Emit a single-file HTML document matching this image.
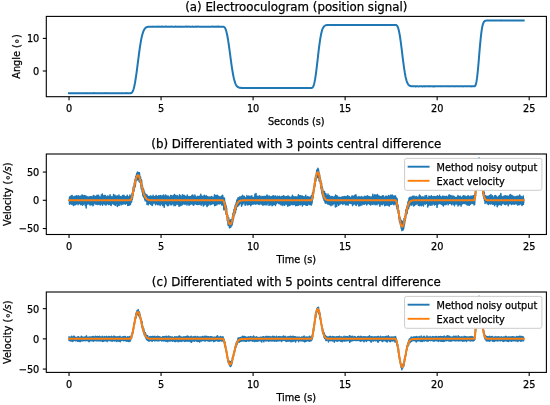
<!DOCTYPE html>
<html><head><meta charset="utf-8"><title>Differentiation figure</title>
<style>
html,body{margin:0;padding:0;background:#fff;}
svg{display:block;}
text{font-family:'DejaVu Sans', 'Liberation Sans', sans-serif;fill:#000;stroke:#000;stroke-width:0.25px;}
.t10{font-size:9.75px;}
.t12{font-size:11.8px;}
</style></head><body>
<svg width="550" height="405" viewBox="0 0 550 405">
<rect width="550" height="405" fill="#fff"/>
<defs>
<clipPath id="c0"><rect x="46.3" y="16.4" width="500.1" height="80.3"/></clipPath>
<clipPath id="c1"><rect x="46.3" y="154.0" width="500.1" height="80.5"/></clipPath>
<clipPath id="c2"><rect x="46.3" y="292.0" width="500.1" height="80.4"/></clipPath>
</defs>
<g clip-path="url(#c0)"><path d="M69.03 93.18L69.40 93.25L69.77 93.17L70.14 93.17L70.50 93.20L70.87 93.19L71.24 93.18L71.61 93.14L71.98 93.22L72.34 93.20L72.71 93.23L73.08 93.19L73.45 93.20L73.82 93.18L74.19 93.18L74.55 93.12L74.92 93.21L75.29 93.17L75.66 93.16L76.03 93.19L76.39 93.17L76.76 93.17L77.13 93.20L77.50 93.15L77.87 93.17L78.23 93.19L78.60 93.20L78.97 93.18L79.34 93.20L79.71 93.17L80.08 93.24L80.44 93.13L80.81 93.21L81.18 93.14L81.55 93.15L81.92 93.19L82.28 93.20L82.65 93.20L83.02 93.19L83.39 93.15L83.76 93.15L84.13 93.18L84.49 93.24L84.86 93.19L85.23 93.17L85.60 93.13L85.97 93.14L86.33 93.16L86.70 93.11L87.07 93.21L87.44 93.16L87.81 93.17L88.17 93.15L88.54 93.15L88.91 93.22L89.28 93.17L89.65 93.18L90.02 93.21L90.38 93.16L90.75 93.19L91.12 93.23L91.49 93.23L91.86 93.14L92.22 93.17L92.59 93.20L92.96 93.18L93.33 93.12L93.70 93.16L94.06 93.11L94.43 93.12L94.80 93.23L95.17 93.21L95.54 93.18L95.91 93.19L96.27 93.20L96.64 93.23L97.01 93.18L97.38 93.17L97.75 93.17L98.11 93.25L98.48 93.25L98.85 93.21L99.22 93.22L99.59 93.14L99.95 93.24L100.32 93.21L100.69 93.23L101.06 93.21L101.43 93.20L101.80 93.14L102.16 93.15L102.53 93.15L102.90 93.23L103.27 93.14L103.64 93.16L104.00 93.14L104.37 93.12L104.74 93.16L105.11 93.22L105.48 93.11L105.84 93.19L106.21 93.22L106.58 93.10L106.95 93.19L107.32 93.22L107.69 93.12L108.05 93.17L108.42 93.22L108.79 93.13L109.16 93.21L109.53 93.23L109.89 93.15L110.26 93.22L110.63 93.19L111.00 93.19L111.37 93.15L111.73 93.20L112.10 93.19L112.47 93.31L112.84 93.16L113.21 93.23L113.58 93.16L113.94 93.14L114.31 93.16L114.68 93.18L115.05 93.19L115.42 93.16L115.78 93.16L116.15 93.21L116.52 93.15L116.89 93.16L117.26 93.18L117.62 93.15L117.99 93.22L118.36 93.22L118.73 93.25L119.10 93.15L119.47 93.20L119.83 93.22L120.20 93.19L120.57 93.14L120.94 93.20L121.31 93.18L121.67 93.12L122.04 93.17L122.41 93.14L122.78 93.14L123.15 93.13L123.51 93.18L123.88 93.25L124.25 93.17L124.62 93.18L124.99 93.20L125.36 93.23L125.72 93.19L126.09 93.19L126.46 93.09L126.83 93.17L127.20 93.13L127.56 93.23L127.93 93.18L128.30 93.21L128.67 93.21L129.04 93.22L129.40 93.13L129.77 93.22L130.14 93.20L130.51 93.17L130.88 93.08L131.25 93.05L131.61 92.87L131.98 92.51L132.35 91.94L132.72 91.34L133.09 90.54L133.45 89.45L133.82 88.19L134.19 86.76L134.56 85.00L134.93 83.19L135.29 81.06L135.66 78.76L136.03 76.31L136.40 73.80L136.77 71.05L137.14 68.29L137.50 65.40L137.87 62.54L138.24 59.61L138.61 56.77L138.98 53.94L139.34 51.25L139.71 48.56L140.08 46.11L140.45 43.84L140.82 41.70L141.18 39.63L141.55 37.84L141.92 36.27L142.29 34.70L142.66 33.40L143.03 32.35L143.39 31.32L143.76 30.45L144.13 29.75L144.50 29.15L144.87 28.59L145.23 28.28L145.60 27.87L145.97 27.54L146.34 27.42L146.71 27.22L147.07 27.04L147.44 26.96L147.81 26.90L148.18 26.79L148.55 26.79L148.92 26.73L149.28 26.71L149.65 26.68L150.02 26.69L150.39 26.74L150.76 26.71L151.12 26.68L151.49 26.69L151.86 26.66L152.23 26.65L152.60 26.62L152.96 26.63L153.33 26.65L153.70 26.70L154.07 26.72L154.44 26.71L154.81 26.70L155.17 26.60L155.54 26.65L155.91 26.64L156.28 26.68L156.65 26.67L157.01 26.67L157.38 26.61L157.75 26.71L158.12 26.67L158.49 26.63L158.85 26.62L159.22 26.65L159.59 26.65L159.96 26.62L160.33 26.70L160.70 26.64L161.06 26.61L161.43 26.65L161.80 26.64L162.17 26.68L162.54 26.59L162.90 26.65L163.27 26.65L163.64 26.70L164.01 26.66L164.38 26.68L164.74 26.64L165.11 26.59L165.48 26.60L165.85 26.69L166.22 26.57L166.59 26.60L166.95 26.72L167.32 26.64L167.69 26.69L168.06 26.62L168.43 26.64L168.79 26.67L169.16 26.62L169.53 26.68L169.90 26.70L170.27 26.62L170.63 26.70L171.00 26.64L171.37 26.60L171.74 26.60L172.11 26.67L172.48 26.66L172.84 26.65L173.21 26.69L173.58 26.67L173.95 26.66L174.32 26.63L174.68 26.69L175.05 26.67L175.42 26.57L175.79 26.59L176.16 26.71L176.52 26.66L176.89 26.67L177.26 26.78L177.63 26.62L178.00 26.64L178.37 26.65L178.73 26.64L179.10 26.60L179.47 26.70L179.84 26.62L180.21 26.66L180.57 26.67L180.94 26.67L181.31 26.71L181.68 26.62L182.05 26.72L182.41 26.66L182.78 26.65L183.15 26.65L183.52 26.64L183.89 26.69L184.26 26.68L184.62 26.69L184.99 26.64L185.36 26.64L185.73 26.57L186.10 26.57L186.46 26.65L186.83 26.60L187.20 26.68L187.57 26.63L187.94 26.63L188.30 26.64L188.67 26.59L189.04 26.60L189.41 26.64L189.78 26.69L190.15 26.67L190.51 26.66L190.88 26.67L191.25 26.71L191.62 26.65L191.99 26.66L192.35 26.59L192.72 26.68L193.09 26.63L193.46 26.67L193.83 26.63L194.19 26.66L194.56 26.64L194.93 26.64L195.30 26.62L195.67 26.66L196.04 26.69L196.40 26.56L196.77 26.71L197.14 26.70L197.51 26.66L197.88 26.68L198.24 26.58L198.61 26.57L198.98 26.62L199.35 26.68L199.72 26.66L200.08 26.64L200.45 26.66L200.82 26.65L201.19 26.71L201.56 26.70L201.93 26.69L202.29 26.62L202.66 26.71L203.03 26.65L203.40 26.66L203.77 26.64L204.13 26.70L204.50 26.68L204.87 26.64L205.24 26.63L205.61 26.66L205.97 26.65L206.34 26.67L206.71 26.69L207.08 26.66L207.45 26.64L207.82 26.67L208.18 26.62L208.55 26.69L208.92 26.65L209.29 26.71L209.66 26.69L210.02 26.63L210.39 26.67L210.76 26.68L211.13 26.70L211.50 26.68L211.86 26.65L212.23 26.55L212.60 26.64L212.97 26.57L213.34 26.71L213.71 26.67L214.07 26.61L214.44 26.69L214.81 26.67L215.18 26.63L215.55 26.62L215.91 26.63L216.28 26.69L216.65 26.60L217.02 26.66L217.39 26.75L217.75 26.68L218.12 26.56L218.49 26.69L218.86 26.58L219.23 26.75L219.60 26.68L219.96 26.63L220.33 26.66L220.70 26.68L221.07 26.68L221.44 26.66L221.80 26.70L222.17 26.67L222.54 26.75L222.91 26.69L223.28 26.72L223.64 26.76L224.01 26.87L224.38 27.21L224.75 27.54L225.12 28.11L225.49 28.91L225.85 29.85L226.22 31.00L226.59 32.45L226.96 33.99L227.33 35.79L227.69 37.76L228.06 39.92L228.43 42.28L228.80 44.77L229.17 47.35L229.54 50.08L229.90 52.85L230.27 55.58L230.64 58.39L231.01 61.13L231.38 63.84L231.74 66.34L232.11 68.86L232.48 71.04L232.85 73.25L233.22 75.23L233.58 77.06L233.95 78.67L234.32 80.09L234.69 81.42L235.06 82.54L235.43 83.61L235.79 84.37L236.16 85.10L236.53 85.68L236.90 86.18L237.27 86.53L237.63 86.91L238.00 87.15L238.37 87.28L238.74 87.53L239.11 87.59L239.47 87.72L239.84 87.75L240.21 87.81L240.58 87.86L240.95 87.91L241.32 87.85L241.68 87.96L242.05 87.97L242.42 87.93L242.79 88.02L243.16 87.93L243.52 87.94L243.89 87.93L244.26 87.93L244.63 87.94L245.00 87.97L245.36 87.97L245.73 88.00L246.10 87.98L246.47 88.00L246.84 87.94L247.21 87.96L247.57 87.98L247.94 87.89L248.31 87.98L248.68 87.94L249.05 87.92L249.41 87.96L249.78 88.01L250.15 88.01L250.52 87.95L250.89 87.94L251.25 88.05L251.62 87.91L251.99 87.94L252.36 87.97L252.73 88.05L253.10 87.99L253.46 87.94L253.83 87.99L254.20 87.92L254.57 87.95L254.94 87.98L255.30 87.93L255.67 87.93L256.04 88.01L256.41 87.97L256.78 88.04L257.14 87.94L257.51 87.99L257.88 87.97L258.25 87.99L258.62 87.95L258.99 87.96L259.35 88.01L259.72 87.96L260.09 87.95L260.46 88.02L260.83 88.04L261.19 87.91L261.56 87.94L261.93 87.93L262.30 87.89L262.67 88.00L263.03 87.97L263.40 87.95L263.77 87.98L264.14 87.95L264.51 87.90L264.88 87.93L265.24 87.98L265.61 87.93L265.98 87.92L266.35 87.97L266.72 87.91L267.08 87.96L267.45 88.01L267.82 87.97L268.19 87.95L268.56 87.98L268.92 87.91L269.29 87.99L269.66 88.00L270.03 87.92L270.40 88.02L270.77 87.91L271.13 88.00L271.50 87.99L271.87 87.99L272.24 87.93L272.61 87.94L272.97 87.95L273.34 88.01L273.71 88.04L274.08 87.98L274.45 87.94L274.81 87.94L275.18 88.01L275.55 87.93L275.92 87.91L276.29 88.03L276.66 88.02L277.02 87.99L277.39 87.97L277.76 88.00L278.13 88.01L278.50 87.96L278.86 88.01L279.23 87.98L279.60 87.96L279.97 87.95L280.34 87.93L280.70 87.98L281.07 87.94L281.44 88.00L281.81 87.92L282.18 88.00L282.55 87.98L282.91 87.96L283.28 88.01L283.65 87.97L284.02 88.06L284.39 87.96L284.75 87.90L285.12 87.97L285.49 87.97L285.86 88.02L286.23 87.97L286.59 87.90L286.96 88.00L287.33 88.03L287.70 87.95L288.07 87.92L288.44 87.99L288.80 87.92L289.17 87.98L289.54 87.88L289.91 88.02L290.28 88.05L290.64 87.98L291.01 87.96L291.38 88.00L291.75 87.96L292.12 88.00L292.48 87.95L292.85 88.02L293.22 87.93L293.59 87.86L293.96 87.94L294.33 88.01L294.69 87.99L295.06 87.91L295.43 87.97L295.80 88.01L296.17 87.92L296.53 87.88L296.90 87.92L297.27 87.91L297.64 87.98L298.01 87.96L298.37 87.96L298.74 87.95L299.11 87.92L299.48 88.00L299.85 87.95L300.22 87.97L300.58 87.99L300.95 87.94L301.32 87.95L301.69 87.99L302.06 87.92L302.42 87.89L302.79 87.97L303.16 87.94L303.53 87.92L303.90 87.94L304.26 87.94L304.63 87.97L305.00 88.07L305.37 87.97L305.74 87.93L306.11 87.99L306.47 87.95L306.84 87.96L307.21 87.98L307.58 87.97L307.95 88.00L308.31 87.97L308.68 88.00L309.05 87.98L309.42 87.89L309.79 87.93L310.15 87.98L310.52 87.94L310.89 87.93L311.26 87.94L311.63 87.95L312.00 87.87L312.36 87.64L312.73 87.24L313.10 86.68L313.47 85.91L313.84 84.87L314.20 83.54L314.57 81.90L314.94 80.02L315.31 77.88L315.68 75.44L316.04 72.76L316.41 69.92L316.78 66.98L317.15 63.69L317.52 60.59L317.89 57.32L318.25 54.11L318.62 50.99L318.99 47.91L319.36 45.07L319.73 42.35L320.09 39.86L320.46 37.59L320.83 35.57L321.20 33.70L321.57 32.15L321.93 30.76L322.30 29.56L322.67 28.68L323.04 27.88L323.41 27.34L323.78 26.67L324.14 26.24L324.51 25.99L324.88 25.76L325.25 25.45L325.62 25.33L325.98 25.29L326.35 25.13L326.72 25.09L327.09 25.11L327.46 25.13L327.82 25.05L328.19 25.01L328.56 25.02L328.93 25.06L329.30 25.11L329.67 25.06L330.03 25.04L330.40 24.98L330.77 25.07L331.14 25.06L331.51 24.99L331.87 24.97L332.24 25.03L332.61 25.03L332.98 25.06L333.35 25.05L333.71 25.00L334.08 24.96L334.45 25.03L334.82 25.00L335.19 25.06L335.56 25.14L335.92 24.99L336.29 25.00L336.66 24.99L337.03 25.01L337.40 25.07L337.76 25.09L338.13 25.03L338.50 25.05L338.87 25.11L339.24 25.02L339.60 25.03L339.97 24.95L340.34 25.11L340.71 25.01L341.08 25.06L341.45 24.96L341.81 25.04L342.18 25.04L342.55 25.03L342.92 25.01L343.29 25.02L343.65 25.00L344.02 25.01L344.39 24.99L344.76 25.01L345.13 24.99L345.49 25.00L345.86 25.04L346.23 25.08L346.60 25.01L346.97 25.06L347.34 25.05L347.70 25.04L348.07 25.02L348.44 25.02L348.81 24.95L349.18 25.12L349.54 25.06L349.91 25.08L350.28 25.07L350.65 25.04L351.02 25.07L351.38 25.01L351.75 25.08L352.12 24.96L352.49 24.97L352.86 25.05L353.23 25.02L353.59 24.98L353.96 25.04L354.33 24.98L354.70 25.09L355.07 25.05L355.43 25.00L355.80 25.04L356.17 25.07L356.54 25.01L356.91 24.94L357.27 25.04L357.64 24.97L358.01 25.06L358.38 24.96L358.75 25.03L359.12 25.08L359.48 25.06L359.85 24.97L360.22 24.99L360.59 24.97L360.96 25.03L361.32 25.01L361.69 25.09L362.06 25.09L362.43 25.05L362.80 25.00L363.16 25.03L363.53 25.00L363.90 25.04L364.27 25.02L364.64 24.98L365.01 25.04L365.37 25.03L365.74 25.04L366.11 25.02L366.48 25.05L366.85 24.98L367.21 25.00L367.58 25.05L367.95 25.11L368.32 24.99L368.69 24.96L369.06 24.97L369.42 25.06L369.79 25.05L370.16 25.06L370.53 24.97L370.90 25.02L371.26 25.06L371.63 25.03L372.00 25.02L372.37 25.03L372.74 24.98L373.10 24.99L373.47 25.07L373.84 24.97L374.21 24.98L374.58 25.05L374.95 25.04L375.31 25.03L375.68 25.04L376.05 25.09L376.42 25.02L376.79 24.99L377.15 25.12L377.52 25.03L377.89 25.02L378.26 25.05L378.63 25.05L378.99 25.03L379.36 25.03L379.73 24.96L380.10 25.00L380.47 25.00L380.84 25.02L381.20 25.05L381.57 25.01L381.94 25.00L382.31 24.99L382.68 25.01L383.04 25.11L383.41 25.05L383.78 25.02L384.15 25.01L384.52 25.05L384.88 24.92L385.25 25.01L385.62 25.02L385.99 24.99L386.36 25.04L386.73 25.09L387.09 25.05L387.46 24.98L387.83 25.05L388.20 25.02L388.57 25.00L388.93 24.98L389.30 25.01L389.67 25.08L390.04 25.02L390.41 24.97L390.77 24.94L391.14 25.13L391.51 25.06L391.88 25.06L392.25 24.98L392.62 25.08L392.98 25.00L393.35 25.09L393.72 24.98L394.09 25.04L394.46 25.02L394.82 24.99L395.19 24.97L395.56 25.10L395.93 24.99L396.30 25.14L396.66 25.39L397.03 25.75L397.40 26.29L397.77 27.01L398.14 27.98L398.51 29.23L398.87 30.65L399.24 32.40L399.61 34.40L399.98 36.51L400.35 39.04L400.71 41.60L401.08 44.32L401.45 47.28L401.82 50.17L402.19 53.28L402.55 56.29L402.92 59.33L403.29 62.22L403.66 64.97L404.03 67.63L404.40 70.11L404.76 72.47L405.13 74.48L405.50 76.41L405.87 78.07L406.24 79.49L406.60 80.84L406.97 81.91L407.34 82.81L407.71 83.55L408.08 84.15L408.44 84.72L408.81 85.08L409.18 85.40L409.55 85.59L409.92 85.83L410.29 85.96L410.65 86.09L411.02 86.15L411.39 86.22L411.76 86.27L412.13 86.25L412.49 86.25L412.86 86.36L413.23 86.28L413.60 86.28L413.97 86.33L414.33 86.28L414.70 86.25L415.07 86.35L415.44 86.43L415.81 86.35L416.18 86.38L416.54 86.28L416.91 86.34L417.28 86.36L417.65 86.33L418.02 86.35L418.38 86.38L418.75 86.43L419.12 86.38L419.49 86.31L419.86 86.36L420.22 86.30L420.59 86.34L420.96 86.30L421.33 86.36L421.70 86.26L422.07 86.40L422.43 86.38L422.80 86.41L423.17 86.32L423.54 86.37L423.91 86.34L424.27 86.34L424.64 86.34L425.01 86.42L425.38 86.34L425.75 86.37L426.11 86.37L426.48 86.37L426.85 86.31L427.22 86.39L427.59 86.31L427.96 86.31L428.32 86.36L428.69 86.34L429.06 86.41L429.43 86.27L429.80 86.30L430.16 86.41L430.53 86.25L430.90 86.32L431.27 86.37L431.64 86.32L432.00 86.30L432.37 86.35L432.74 86.43L433.11 86.35L433.48 86.39L433.85 86.36L434.21 86.35L434.58 86.41L434.95 86.32L435.32 86.30L435.69 86.33L436.05 86.35L436.42 86.37L436.79 86.33L437.16 86.29L437.53 86.36L437.89 86.36L438.26 86.29L438.63 86.37L439.00 86.32L439.37 86.32L439.74 86.32L440.10 86.34L440.47 86.30L440.84 86.37L441.21 86.28L441.58 86.38L441.94 86.34L442.31 86.34L442.68 86.35L443.05 86.28L443.42 86.33L443.78 86.37L444.15 86.37L444.52 86.32L444.89 86.36L445.26 86.36L445.63 86.31L445.99 86.29L446.36 86.33L446.73 86.30L447.10 86.36L447.47 86.35L447.83 86.35L448.20 86.32L448.57 86.33L448.94 86.31L449.31 86.27L449.67 86.38L450.04 86.37L450.41 86.33L450.78 86.37L451.15 86.26L451.52 86.32L451.88 86.33L452.25 86.35L452.62 86.26L452.99 86.32L453.36 86.33L453.72 86.31L454.09 86.31L454.46 86.37L454.83 86.39L455.20 86.31L455.56 86.32L455.93 86.39L456.30 86.31L456.67 86.30L457.04 86.34L457.41 86.25L457.77 86.37L458.14 86.33L458.51 86.32L458.88 86.31L459.25 86.33L459.61 86.38L459.98 86.35L460.35 86.33L460.72 86.34L461.09 86.31L461.45 86.37L461.82 86.30L462.19 86.40L462.56 86.35L462.93 86.33L463.30 86.32L463.66 86.38L464.03 86.35L464.40 86.28L464.77 86.32L465.14 86.36L465.50 86.33L465.87 86.32L466.24 86.31L466.61 86.35L466.98 86.32L467.34 86.34L467.71 86.36L468.08 86.30L468.45 86.33L468.82 86.32L469.19 86.34L469.55 86.28L469.92 86.36L470.29 86.35L470.66 86.36L471.03 86.38L471.39 86.26L471.76 86.38L472.13 86.35L472.50 86.30L472.87 86.31L473.23 86.37L473.60 86.34L473.97 86.36L474.34 86.33L474.71 86.23L475.08 85.93L475.44 85.42L475.81 84.43L476.18 83.03L476.55 81.14L476.92 78.72L477.28 75.84L477.65 72.51L478.02 68.73L478.39 64.61L478.76 60.39L479.12 55.93L479.49 51.51L479.86 47.18L480.23 43.14L480.60 39.43L480.97 35.88L481.33 32.80L481.70 30.11L482.07 27.92L482.44 26.05L482.81 24.62L483.17 23.53L483.54 22.61L483.91 21.95L484.28 21.47L484.65 21.17L485.01 20.92L485.38 20.71L485.75 20.68L486.12 20.62L486.49 20.56L486.86 20.55L487.22 20.43L487.59 20.52L487.96 20.40L488.33 20.51L488.70 20.48L489.06 20.49L489.43 20.49L489.80 20.48L490.17 20.55L490.54 20.50L490.90 20.46L491.27 20.45L491.64 20.48L492.01 20.45L492.38 20.51L492.75 20.49L493.11 20.48L493.48 20.45L493.85 20.44L494.22 20.47L494.59 20.49L494.95 20.46L495.32 20.39L495.69 20.41L496.06 20.39L496.43 20.47L496.79 20.54L497.16 20.47L497.53 20.46L497.90 20.48L498.27 20.43L498.64 20.42L499.00 20.44L499.37 20.46L499.74 20.50L500.11 20.41L500.48 20.50L500.84 20.32L501.21 20.44L501.58 20.54L501.95 20.41L502.32 20.48L502.68 20.49L503.05 20.47L503.42 20.50L503.79 20.51L504.16 20.45L504.53 20.41L504.89 20.48L505.26 20.48L505.63 20.42L506.00 20.40L506.37 20.44L506.73 20.43L507.10 20.44L507.47 20.44L507.84 20.39L508.21 20.47L508.57 20.47L508.94 20.43L509.31 20.48L509.68 20.42L510.05 20.41L510.42 20.46L510.78 20.51L511.15 20.45L511.52 20.48L511.89 20.47L512.26 20.56L512.62 20.42L512.99 20.38L513.36 20.45L513.73 20.51L514.10 20.43L514.47 20.48L514.83 20.46L515.20 20.42L515.57 20.59L515.94 20.54L516.31 20.49L516.67 20.47L517.04 20.48L517.41 20.41L517.78 20.49L518.15 20.40L518.51 20.46L518.88 20.43L519.25 20.44L519.62 20.42L519.99 20.49L520.36 20.49L520.72 20.47L521.09 20.46L521.46 20.46L521.83 20.42L522.20 20.44L522.56 20.50L522.93 20.44L523.30 20.51L523.67 20.48" fill="none" stroke="#1f77b4" stroke-width="2" stroke-linejoin="round" stroke-linecap="square"/></g>
<line x1="69.03" y1="96.7" x2="69.03" y2="100.2" stroke="#000" stroke-width="1.1"/>
<text class="t10" x="69.03" y="111.8" text-anchor="middle">0</text>
<line x1="161.06" y1="96.7" x2="161.06" y2="100.2" stroke="#000" stroke-width="1.1"/>
<text class="t10" x="161.06" y="111.8" text-anchor="middle">5</text>
<line x1="253.10" y1="96.7" x2="253.10" y2="100.2" stroke="#000" stroke-width="1.1"/>
<text class="t10" x="253.10" y="111.8" text-anchor="middle">10</text>
<line x1="345.13" y1="96.7" x2="345.13" y2="100.2" stroke="#000" stroke-width="1.1"/>
<text class="t10" x="345.13" y="111.8" text-anchor="middle">15</text>
<line x1="437.16" y1="96.7" x2="437.16" y2="100.2" stroke="#000" stroke-width="1.1"/>
<text class="t10" x="437.16" y="111.8" text-anchor="middle">20</text>
<line x1="529.19" y1="96.7" x2="529.19" y2="100.2" stroke="#000" stroke-width="1.1"/>
<text class="t10" x="529.19" y="111.8" text-anchor="middle">25</text>
<line x1="42.8" y1="71.01" x2="46.3" y2="71.01" stroke="#000" stroke-width="1.1"/>
<text class="t10" x="39.3" y="74.8" text-anchor="end">0</text>
<line x1="42.8" y1="38.41" x2="46.3" y2="38.41" stroke="#000" stroke-width="1.1"/>
<text class="t10" x="39.3" y="42.2" text-anchor="end">10</text>
<rect x="46.3" y="16.4" width="500.1" height="80.3" fill="none" stroke="#000" stroke-width="1.1"/>
<text class="t12" x="296.3" y="10.8" text-anchor="middle">(a) Electrooculogram (position signal)</text>
<text class="t10" x="296.3" y="124.8" text-anchor="middle">Seconds (s)</text>
<text class="t10" transform="translate(19.6,56.5) rotate(-90)" text-anchor="middle">Angle (∘)</text>
<g clip-path="url(#c1)"><path d="M69.46 203.45L69.51 197.33L69.75 204.15L69.93 196.72L70.28 203.10L70.52 197.57L70.58 197.35L70.61 203.46L71.24 195.65L71.41 202.74L71.85 204.27L71.88 198.37L72.16 195.55L72.44 204.09L72.73 203.74L72.79 197.52L73.43 205.60L73.50 196.89L73.69 204.69L73.84 196.77L74.31 203.22L74.42 196.94L74.57 196.65L75.00 204.94L75.12 196.31L75.22 204.10L75.90 202.44L75.92 197.23L76.12 204.28L76.52 195.85L76.56 197.26L76.91 203.13L77.09 202.93L77.19 197.04L77.65 203.01L77.96 196.02L78.07 204.82L78.27 195.85L78.71 202.40L79.03 196.74L79.14 196.46L79.34 203.18L79.69 196.40L79.85 202.58L80.22 196.32L80.26 204.34L80.66 196.33L80.94 204.80L81.31 198.39L81.33 204.08L81.58 204.22L82.01 194.90L82.49 195.31L82.52 203.84L82.63 205.27L82.91 198.45L83.32 204.32L83.43 197.94L83.54 203.38L83.79 195.66L84.20 196.92L84.35 203.68L84.88 202.14L84.93 195.55L85.30 196.38L85.32 205.44L85.63 197.52L85.93 203.59L86.20 207.94L86.35 196.21L86.54 202.88L86.57 197.16L87.18 197.10L87.47 203.19L87.81 196.98L87.82 204.13L88.25 197.21L88.36 203.34L88.54 197.26L88.71 203.57L89.44 203.70L89.52 197.31L89.55 196.68L89.65 203.30L90.13 205.01L90.53 196.66L90.71 204.15L90.92 196.82L91.29 204.69L91.41 196.63L91.87 203.27L91.95 197.11L92.35 198.56L92.48 204.16L92.70 197.62L92.92 205.66L93.13 204.41L93.27 195.43L93.59 204.95L93.90 197.46L94.36 203.35L94.45 196.11L94.75 203.00L94.80 196.34L95.37 197.20L95.50 202.89L95.78 196.50L95.87 204.24L96.14 203.99L96.25 197.36L96.68 196.10L97.01 202.83L97.08 195.32L97.38 204.58L97.60 195.61L97.65 204.09L98.21 204.14L98.45 195.20L98.81 202.77L98.89 195.97L99.35 197.72L99.40 204.05L99.62 203.79L99.99 198.03L100.21 204.94L100.53 196.95L100.67 204.23L100.91 196.81L101.32 203.80L101.33 194.99L101.92 203.51L101.98 196.47L102.33 193.95L102.53 205.10L102.60 205.20L102.66 197.32L103.08 195.94L103.30 202.64L103.64 203.63L103.69 196.78L104.17 195.57L104.52 203.44L104.63 197.69L104.80 203.98L105.11 204.74L105.26 195.56L105.57 203.02L105.68 198.43L106.10 196.92L106.18 205.01L106.65 197.76L106.93 203.41L107.19 202.37L107.30 196.06L107.57 203.40L107.65 196.81L108.40 204.48L108.44 197.62L108.64 196.32L108.75 204.48L109.45 203.85L109.49 196.55L109.78 202.89L109.80 196.65L110.10 194.84L110.21 203.88L110.54 204.73L110.81 196.73L111.04 197.78L111.05 205.52L111.61 203.10L111.73 196.65L112.49 197.64L112.53 203.07L112.93 203.61L112.97 196.91L113.06 196.66L113.35 203.90L113.54 194.58L113.80 204.30L114.15 196.60L114.46 203.53L114.64 204.82L115.01 195.22L115.07 202.92L115.47 196.33L115.64 205.18L116.00 197.06L116.15 202.89L116.23 197.07L116.76 203.32L116.81 195.92L117.22 196.04L117.33 206.41L117.68 204.11L117.97 196.35L118.43 198.30L118.53 203.52L118.62 205.11L118.97 195.04L119.15 205.40L119.41 196.72L119.74 202.44L120.00 196.75L120.18 203.31L120.29 197.17L120.61 196.59L120.97 204.66L121.16 204.71L121.38 197.31L121.95 203.23L122.02 196.39L122.21 202.39L122.30 198.02L122.59 195.38L122.65 204.21L123.04 196.27L123.24 203.10L123.70 203.79L123.97 195.37L124.07 197.41L124.20 201.96L124.69 197.99L124.86 203.41L125.10 196.71L125.34 204.15L125.76 196.99L125.85 203.73L126.24 196.60L126.39 203.25L126.61 196.62L126.94 203.27L127.32 195.15L127.42 203.19L127.64 197.43L127.71 205.57L128.19 196.96L128.30 202.88L128.94 205.36L128.98 196.76L129.09 196.80L129.44 204.38L129.77 204.59L129.90 195.02L130.47 204.42L130.49 197.70L130.66 197.08L130.97 202.53L131.08 202.60L131.50 195.66L131.58 201.70L132.00 193.25L132.37 199.33L132.50 192.63L132.61 197.45L132.96 189.76L133.10 195.46L133.14 187.86L133.79 185.98L133.86 191.19L134.14 190.12L134.34 182.87L134.94 187.24L135.02 179.60L135.04 179.26L135.07 186.65L135.57 183.63L135.66 176.57L136.23 180.72L136.53 174.47L136.82 173.38L136.90 180.31L137.37 179.15L137.39 172.21L137.67 171.95L137.89 178.52L138.06 179.41L138.29 173.89L138.96 172.69L139.03 179.76L139.12 181.50L139.40 172.70L139.64 175.12L139.66 181.95L140.34 182.71L140.37 177.21L140.54 177.03L140.91 185.50L141.37 189.07L141.50 179.89L141.76 182.93L142.03 189.18L142.18 191.96L142.29 185.19L142.58 187.02L142.75 194.65L143.36 196.53L143.45 188.90L143.87 190.90L143.95 196.51L144.06 197.79L144.52 192.03L144.74 199.50L144.88 193.51L145.22 200.87L145.34 193.91L145.82 194.87L145.84 200.07L146.06 194.50L146.17 200.98L146.96 194.92L147.00 204.62L147.28 196.75L147.33 203.57L147.61 195.91L148.03 203.81L148.31 196.55L148.38 204.69L148.71 197.04L148.79 202.64L149.21 196.76L149.43 203.24L149.65 202.62L149.85 196.31L150.07 202.92L150.50 195.98L150.59 204.22L150.88 196.71L151.05 203.48L151.14 196.29L151.55 196.84L151.97 205.21L152.34 205.38L152.50 196.42L152.91 204.07L153.00 197.46L153.11 195.32L153.24 203.16L153.61 202.86L153.98 196.71L154.25 197.27L154.35 202.93L154.57 196.79L154.97 203.31L155.06 203.27L155.49 196.34L155.58 204.79L155.71 196.44L156.15 195.34L156.50 203.72L156.81 203.42L156.89 197.25L157.18 196.94L157.51 202.39L157.66 204.58L157.97 196.21L158.16 204.69L158.52 195.71L158.58 204.17L158.84 197.49L159.09 202.81L159.44 195.91L159.72 196.63L159.94 204.25L160.14 205.39L160.35 195.40L160.60 197.29L160.97 203.00L161.05 197.25L161.17 203.70L161.67 196.12L161.84 203.07L162.09 196.70L162.11 204.11L162.92 205.66L162.96 195.45L163.36 202.90L163.38 197.51L163.68 195.02L163.90 203.46L164.27 207.32L164.32 196.47L164.65 203.28L164.69 196.72L165.30 195.88L165.46 203.73L165.67 195.03L165.98 203.10L166.38 203.29L166.44 196.42L166.88 204.86L166.99 197.29L167.08 196.04L167.49 203.86L167.73 196.30L167.78 205.70L168.13 204.69L168.32 196.27L168.67 205.33L168.74 196.30L169.18 203.48L169.46 197.42L169.77 197.80L170.01 203.64L170.06 197.93L170.27 203.44L170.71 195.53L170.75 204.74L171.11 204.18L171.33 197.06L171.59 195.66L171.78 204.67L172.03 196.91L172.46 202.54L172.59 196.23L172.70 203.25L173.19 203.69L173.41 195.83L173.58 197.27L174.02 205.66L174.08 203.58L174.33 194.42L174.59 202.52L174.91 197.44L175.25 203.95L175.44 195.52L175.55 205.59L175.88 195.36L176.29 197.40L176.38 203.65L176.78 197.26L176.82 202.52L177.13 204.21L177.48 195.73L177.54 203.55L177.57 196.05L178.29 197.50L178.31 204.24L178.95 196.71L178.97 205.56L179.16 206.33L179.49 194.76L179.67 205.39L179.69 196.35L180.04 204.93L180.06 196.16L180.63 195.83L180.76 205.46L181.40 203.60L181.42 197.33L181.62 204.73L181.99 197.14L182.34 204.83L182.43 194.77L182.89 197.48L182.99 204.28L183.41 195.65L183.52 202.03L183.56 203.29L183.98 195.17L184.05 202.70L184.18 197.67L184.70 204.08L184.81 195.94L185.10 204.46L185.18 196.87L185.73 196.44L185.82 203.33L186.13 202.68L186.52 197.09L186.81 198.15L186.87 205.06L187.11 203.86L187.22 194.92L187.84 203.66L188.01 197.61L188.29 203.26L188.40 196.98L188.54 197.73L188.97 205.14L189.06 204.61L189.10 196.59L189.63 196.79L189.83 204.87L190.11 204.07L190.27 197.03L190.86 204.05L190.97 196.63L191.12 203.13L191.36 197.84L191.82 195.54L192.00 203.65L192.23 197.82L192.37 204.09L192.85 194.89L192.98 203.06L193.27 205.03L193.33 197.74L193.53 196.85L193.55 205.24L194.07 204.58L194.21 196.19L194.78 203.46L194.89 194.91L195.15 203.83L195.26 196.11L195.59 203.36L195.81 197.18L196.42 204.14L196.50 197.99L196.59 203.19L196.83 197.26L197.34 196.38L197.51 204.57L197.67 197.44L197.82 203.61L198.30 196.83L198.41 203.95L198.56 204.36L198.65 197.88L199.07 196.16L199.42 204.21L199.55 203.34L199.64 196.63L200.16 203.89L200.43 196.54L200.80 194.26L200.86 203.28L201.06 198.34L201.17 205.31L201.61 196.32L201.65 203.33L202.04 202.74L202.50 197.23L202.57 203.98L202.96 196.25L203.09 197.28L203.31 206.00L203.60 196.40L203.80 204.16L204.12 204.91L204.30 195.31L204.74 204.71L205.02 196.42L205.20 197.27L205.46 204.00L205.59 202.54L205.72 196.71L206.05 203.09L206.12 195.54L206.55 196.19L206.62 204.89L207.10 206.46L207.45 196.70L207.74 197.90L207.85 203.21L208.05 197.01L208.09 205.34L208.70 197.14L208.81 202.61L209.29 196.92L209.38 202.96L209.55 197.19L209.88 203.97L210.15 204.72L210.23 197.82L210.59 197.28L210.78 203.61L211.11 196.57L211.50 204.15L211.85 196.70L212.01 203.91L212.07 197.26L212.34 203.36L212.69 202.98L212.75 197.51L213.30 203.72L213.36 197.77L213.65 197.21L213.72 202.64L214.46 203.30L214.50 194.83L214.68 205.82L214.98 195.51L215.07 196.37L215.53 205.35L215.55 203.27L215.97 197.38L216.10 195.46L216.15 204.09L216.80 204.82L217.02 197.21L217.26 203.43L217.29 195.36L217.63 197.33L217.79 203.63L218.23 197.42L218.33 203.35L218.64 203.71L218.68 196.30L219.28 197.53L219.43 203.80L219.58 203.89L219.67 197.34L220.07 203.55L220.15 197.77L220.70 196.76L220.92 202.52L221.16 197.31L221.47 203.87L221.82 204.88L221.95 195.68L222.41 204.98L222.52 195.32L222.69 201.95L222.80 195.81L223.09 203.69L223.15 197.41L223.59 198.95L223.81 209.70L224.16 206.22L224.36 198.12L224.73 202.52L224.88 208.00L225.08 202.47L225.38 210.83L225.56 203.92L226.02 214.32L226.15 206.09L226.48 213.90L226.59 208.06L226.92 216.90L227.07 213.97L227.33 220.65L227.69 215.01L227.93 222.41L228.12 225.17L228.21 218.80L228.71 217.98L228.98 225.31L229.15 220.68L229.42 227.67L229.54 220.57L229.81 227.64L230.22 227.35L230.27 220.45L230.68 227.32L230.77 219.78L231.15 226.16L231.30 220.79L231.84 225.45L231.96 219.52L232.30 224.23L232.42 217.05L232.74 222.22L233.01 213.42L233.20 219.63L233.49 212.15L233.62 218.14L234.01 209.66L234.47 208.79L234.52 214.98L234.63 213.26L235.00 206.56L235.31 205.07L235.41 212.67L235.59 209.41L235.79 203.92L236.20 209.68L236.35 202.37L236.75 206.58L236.79 200.06L237.39 200.52L237.50 206.54L237.84 206.26L237.91 197.92L238.39 199.47L238.48 205.20L238.70 197.78L239.01 204.84L239.24 204.80L239.51 197.93L239.66 196.91L240.03 203.74L240.36 203.06L240.52 197.16L240.60 197.87L240.76 203.03L241.32 196.54L241.52 203.63L241.54 206.16L241.83 197.58L242.27 204.66L242.35 197.97L242.68 195.37L242.92 203.59L243.12 203.67L243.47 196.92L243.56 203.09L243.63 197.19L244.11 202.33L244.30 196.37L244.78 197.44L244.92 203.25L245.07 205.28L245.38 198.06L245.70 198.32L245.73 205.00L246.34 197.56L246.45 203.87L246.84 203.08L246.87 195.53L247.30 202.69L247.33 197.31L247.76 205.01L247.92 197.89L248.09 203.60L248.22 196.70L248.79 196.11L248.82 204.59L249.08 197.37L249.23 202.79L249.67 196.77L250.00 204.20L250.17 196.28L250.22 203.53L250.61 196.54L250.81 205.63L251.11 203.88L251.35 197.84L251.68 204.37L251.88 195.71L252.10 204.28L252.52 197.47L252.62 198.26L252.75 203.45L253.17 197.77L253.39 204.10L253.92 197.36L253.94 202.87L254.27 196.98L254.53 203.56L254.94 194.32L255.03 203.98L255.12 203.84L255.16 197.09L255.56 195.98L255.86 204.19L256.04 193.59L256.26 202.86L256.54 196.24L256.72 202.66L257.11 203.56L257.48 196.63L257.57 196.40L257.97 203.96L258.12 196.66L258.51 202.39L258.86 203.70L258.97 197.35L259.17 204.54L259.22 195.69L259.68 197.64L259.81 202.17L260.09 196.82L260.49 203.85L260.79 203.47L261.01 196.31L261.25 203.88L261.29 197.60L261.82 197.70L261.87 204.01L262.06 197.43L262.30 202.82L262.57 204.92L262.59 196.38L263.20 204.96L263.31 197.78L263.97 204.78L263.99 197.05L264.07 196.27L264.43 203.53L264.89 203.27L264.91 197.51L265.28 204.70L265.45 196.54L265.59 204.19L265.85 197.14L266.33 197.11L266.42 204.16L266.73 195.58L267.03 205.09L267.08 195.06L267.45 202.93L267.86 202.76L267.91 196.76L268.35 202.98L268.50 197.90L268.92 196.09L268.94 205.33L269.40 196.33L269.51 204.27L269.62 196.36L269.77 204.93L270.14 197.17L270.32 204.75L270.71 203.92L270.99 197.47L271.13 196.76L271.15 203.39L271.65 197.33L272.02 205.72L272.20 203.41L272.24 196.53L272.90 205.26L272.97 195.87L273.14 202.51L273.49 195.84L273.64 196.08L273.65 204.37L274.12 201.85L274.21 197.37L274.91 196.38L275.00 204.74L275.22 196.67L275.48 205.52L275.61 195.98L275.94 204.21L276.23 203.48L276.51 197.92L276.64 203.23L277.02 197.55L277.13 202.72L277.32 196.21L277.59 202.49L277.61 196.75L278.13 196.48L278.51 203.34L278.59 203.55L278.66 197.22L279.16 203.61L279.53 196.37L279.62 203.63L279.88 197.23L280.17 197.02L280.23 203.94L280.82 197.19L280.98 203.19L281.05 197.96L281.11 205.07L281.66 196.39L281.77 203.84L282.20 196.72L282.23 204.00L282.64 197.95L282.84 205.40L283.15 203.94L283.30 195.71L283.61 203.95L284.02 196.45L284.15 196.15L284.40 203.48L284.70 205.26L284.88 198.98L285.07 203.01L285.20 196.78L285.75 203.73L285.88 197.96L286.19 204.05L286.24 196.64L286.56 196.90L286.91 204.58L287.42 202.34L287.51 196.15L287.81 206.24L287.86 196.05L288.47 196.20L288.53 202.06L288.60 196.21L289.02 203.09L289.23 205.43L289.26 197.21L289.63 197.02L289.71 203.11L290.20 203.12L290.35 197.98L290.57 205.00L290.96 198.31L291.18 204.10L291.21 197.08L291.90 197.41L291.95 204.25L292.36 202.56L292.45 195.29L292.76 204.75L292.85 197.81L293.22 196.43L293.39 204.20L293.66 204.55L293.90 197.10L294.05 203.20L294.31 197.72L294.68 196.92L294.84 204.35L295.14 196.65L295.41 202.93L295.67 205.75L295.93 197.16L296.11 197.40L296.42 203.36L296.68 196.95L296.74 205.19L297.34 196.96L297.51 203.45L297.66 205.38L297.75 196.93L298.12 204.31L298.43 194.80L298.80 204.96L299.00 197.21L299.30 202.86L299.39 196.08L299.72 195.82L299.85 204.19L300.25 195.63L300.44 204.75L300.80 202.86L300.82 196.76L301.34 203.16L301.36 197.35L301.65 203.96L301.89 195.79L302.31 196.05L302.39 206.05L302.92 196.81L302.96 203.54L303.18 203.74L303.53 196.70L303.75 204.47L303.88 197.26L304.34 202.85L304.38 196.88L304.54 196.91L304.80 204.22L305.04 203.09L305.48 197.05L305.76 195.35L305.92 205.30L306.14 197.76L306.46 203.41L306.90 203.84L306.95 197.53L307.30 205.37L307.50 196.46L307.63 197.83L307.98 203.30L308.15 197.33L308.48 202.73L308.76 196.99L309.00 204.62L309.23 198.23L309.38 203.15L309.60 204.38L309.81 197.17L310.10 203.36L310.14 198.11L310.63 197.67L310.93 204.96L311.11 195.96L311.37 205.08L311.72 195.78L311.77 203.92L312.18 201.95L312.35 194.69L312.64 192.56L312.69 199.05L313.12 197.25L313.47 189.16L313.56 193.23L313.91 186.90L314.08 190.70L314.48 182.91L314.79 186.85L315.01 179.01L315.22 184.70L315.49 176.61L315.71 175.52L315.75 181.12L316.06 179.54L316.45 172.57L316.62 177.59L316.71 170.36L317.28 169.81L317.37 177.45L317.76 177.56L317.87 168.16L318.29 169.47L318.40 177.27L318.58 170.07L318.95 178.14L319.05 172.62L319.14 180.87L319.62 174.60L319.73 181.17L320.17 177.74L320.52 184.24L320.61 179.69L320.94 188.13L321.07 182.00L321.49 190.35L321.59 183.31L321.73 192.95L322.21 186.79L322.39 194.92L322.54 188.19L322.87 195.76L323.39 198.36L323.48 191.33L323.59 192.69L324.00 200.32L324.31 199.93L324.46 191.39L324.70 200.91L325.01 194.90L325.08 202.64L325.12 194.28L325.82 203.18L325.84 193.57L326.19 202.40L326.24 196.22L326.74 202.41L326.90 195.61L327.11 196.38L327.36 203.26L327.92 204.04L328.01 193.91L328.06 197.29L328.47 202.39L328.67 203.50L328.86 197.33L329.08 204.32L329.52 195.62L329.67 197.20L329.94 204.13L330.09 204.68L330.27 197.55L330.66 196.94L330.97 205.81L331.14 202.18L331.32 196.97L331.62 203.96L331.80 196.50L332.33 204.41L332.41 196.67L332.79 204.94L332.92 197.54L333.31 197.09L333.46 203.66L333.84 202.83L333.86 197.38L334.23 202.90L334.52 197.43L334.75 196.62L335.00 204.32L335.11 197.04L335.39 206.97L335.57 195.04L335.81 204.32L336.14 203.61L336.18 196.40L336.73 206.45L336.84 195.69L337.29 197.24L337.36 203.94L337.62 196.47L337.95 203.12L338.43 203.25L338.45 198.94L338.70 205.36L338.94 197.68L339.33 197.30L339.42 202.92L339.68 197.53L339.99 203.97L340.30 202.81L340.36 197.88L340.75 197.43L340.78 203.33L341.13 203.46L341.45 197.22L341.57 203.05L341.91 198.09L342.37 203.45L342.38 197.25L342.70 196.76L342.83 204.39L343.25 203.49L343.34 197.07L343.75 202.51L343.89 196.76L344.06 197.31L344.19 203.46L344.54 196.59L344.70 203.06L345.11 203.48L345.13 198.12L345.55 204.85L345.61 196.98L346.07 196.54L346.38 204.64L346.86 204.36L346.88 197.47L347.10 198.10L347.32 202.86L347.59 204.48L347.61 195.78L348.22 205.12L348.46 196.48L348.83 197.48L348.96 203.32L349.08 196.40L349.12 203.05L349.71 197.01L349.80 202.61L350.06 203.12L350.21 197.75L350.56 197.83L350.94 203.49L351.18 203.29L351.50 197.48L351.68 196.77L351.97 202.53L352.08 195.73L352.10 203.13L352.62 205.61L352.97 196.76L353.37 196.58L353.52 202.24L353.58 196.66L353.96 203.03L354.04 204.22L354.44 195.46L354.83 202.65L354.88 197.11L355.43 203.44L355.49 195.34L355.77 204.89L355.97 194.72L356.21 205.53L356.39 196.80L356.67 196.97L357.00 203.90L357.13 198.69L357.18 202.96L357.53 197.33L357.96 203.87L358.07 203.72L358.29 197.19L358.88 205.96L358.91 196.49L359.19 196.76L359.35 202.91L359.76 204.18L359.78 197.13L360.16 205.46L360.42 198.14L360.53 197.36L360.94 204.75L361.25 196.49L361.32 204.20L361.62 196.96L361.82 205.09L362.06 203.56L362.45 198.39L362.70 197.18L362.87 203.70L363.04 203.66L363.07 197.32L363.75 204.25L363.99 197.67L364.44 204.29L364.47 196.32L364.82 196.93L365.02 203.23L365.47 202.97L365.48 196.61L365.63 197.51L365.72 202.48L366.13 203.72L366.51 197.42L366.70 204.89L366.88 197.54L367.09 195.82L367.29 203.49L367.62 203.98L367.90 196.21L368.12 196.96L368.50 201.65L368.65 197.59L368.98 203.48L369.07 196.39L369.44 201.91L369.63 204.15L370.03 197.14L370.18 202.61L370.29 196.93L370.62 205.09L370.99 198.36L371.15 197.02L371.39 203.64L371.91 203.24L372.02 197.06L372.13 204.20L372.48 196.81L372.59 202.52L372.81 194.35L373.07 204.50L373.42 196.02L373.95 203.27L374.01 195.95L374.41 203.43L374.52 195.73L374.74 194.87L375.00 204.78L375.18 203.62L375.37 198.15L375.81 203.48L375.83 194.93L376.10 197.43L376.14 204.18L376.75 197.00L376.97 204.83L377.08 203.25L377.41 194.45L377.54 203.20L377.56 197.61L378.13 202.78L378.17 196.60L378.53 203.29L378.94 195.86L379.42 204.67L379.49 196.77L379.68 197.19L379.86 206.32L380.17 196.71L380.30 203.74L380.72 204.34L380.76 197.54L381.06 196.55L381.09 204.52L381.66 197.13L381.79 203.63L382.29 203.80L382.49 196.11L382.58 204.68L382.62 195.82L383.15 203.42L383.21 197.24L383.56 195.86L383.78 202.91L384.06 203.45L384.42 198.01L384.70 205.73L384.98 198.42L385.07 204.99L385.49 196.68L385.99 196.53L386.01 205.35L386.08 196.06L386.52 203.97L386.61 196.41L386.78 204.12L387.07 204.62L387.50 197.08L387.65 197.45L387.90 204.94L388.12 205.28L388.47 195.58L388.64 196.27L388.97 203.45L389.06 195.66L389.17 206.10L389.76 196.50L390.02 202.65L390.11 196.70L390.35 204.45L390.85 194.94L390.94 203.89L391.16 197.11L391.40 203.47L391.55 204.35L391.68 195.87L392.49 195.16L392.50 203.55L392.56 203.00L392.82 196.26L393.11 197.96L393.50 204.43L393.55 196.79L393.98 204.77L394.09 195.88L394.25 203.46L394.58 203.50L394.86 196.64L395.32 196.00L395.52 203.88L395.54 196.12L395.93 203.92L396.24 197.71L396.50 206.29L396.59 198.03L397.00 208.78L397.11 198.78L397.42 209.73L397.66 204.40L397.99 211.37L398.17 205.48L398.25 213.13L398.80 210.57L398.93 218.57L399.26 213.42L399.35 221.01L399.55 216.18L399.70 222.49L400.27 218.13L400.47 224.78L400.57 219.13L401.03 227.24L401.16 220.57L401.28 228.45L401.67 222.01L401.91 230.62L402.13 230.15L402.44 221.20L402.61 222.33L403.01 230.08L403.44 222.24L403.51 229.05L403.82 226.87L403.97 220.57L404.05 218.54L404.06 226.07L404.62 223.31L404.98 216.30L405.22 220.77L405.50 213.37L405.67 218.33L405.89 209.80L406.36 214.68L406.51 208.40L406.68 213.54L406.75 206.76L407.08 213.57L407.36 205.32L407.58 209.92L407.93 202.44L408.22 201.39L408.48 208.58L408.70 207.36L408.96 200.09L409.03 198.36L409.42 204.88L409.55 205.97L409.59 197.41L410.21 204.85L410.40 197.14L410.69 204.13L410.87 197.46L411.35 204.43L411.37 197.97L411.78 205.23L411.81 196.95L412.20 204.00L412.22 196.49L412.81 203.30L412.95 196.20L413.43 196.37L413.47 204.05L413.73 205.91L413.80 196.63L414.10 196.18L414.52 201.86L414.70 205.34L414.78 197.16L415.18 198.34L415.37 203.03L415.77 196.74L415.95 204.37L416.27 203.69L416.49 196.40L416.71 196.84L416.80 203.30L417.04 203.52L417.30 197.26L417.76 202.99L417.83 198.09L418.09 197.92L418.27 205.35L418.57 202.97L418.99 195.97L419.05 203.67L419.53 197.63L419.54 195.08L419.78 205.75L420.41 195.94L420.50 204.48L420.68 204.32L420.74 197.85L421.13 197.46L421.51 205.79L421.59 197.20L421.68 203.67L422.18 196.94L422.30 204.64L422.58 197.12L422.82 204.07L423.21 197.11L423.50 205.89L423.74 197.19L423.83 202.84L424.11 197.98L424.13 203.21L424.83 203.53L424.97 197.03L425.08 195.85L425.29 204.14L425.54 203.41L425.75 197.13L426.04 197.36L426.52 203.26L426.57 195.46L426.94 202.74L427.33 197.76L427.35 203.66L427.66 198.19L427.68 207.03L428.07 198.70L428.51 205.42L428.77 203.44L428.82 196.14L429.35 196.36L429.46 204.17L429.61 198.16L430.02 204.28L430.04 196.51L430.24 205.18L430.73 197.64L430.90 204.67L431.27 202.29L431.42 195.80L431.58 198.04L431.99 204.06L432.12 205.13L432.19 196.94L432.63 197.25L432.65 203.62L433.26 202.55L433.40 196.47L433.68 197.45L433.83 203.88L434.40 196.46L434.43 205.02L434.60 203.99L435.02 196.85L435.04 197.01L435.48 203.48L435.61 197.23L435.74 204.30L436.07 196.49L436.15 203.22L436.62 197.01L437.01 207.37L437.29 204.35L437.45 195.70L437.77 203.50L437.80 196.48L438.13 204.13L438.23 196.99L438.83 196.58L438.89 202.51L439.29 202.96L439.33 197.42L439.57 195.22L439.92 203.64L440.27 196.74L440.34 203.40L440.80 196.75L440.93 203.19L441.23 197.33L441.37 204.22L441.74 197.17L441.94 202.25L442.09 196.88L442.51 204.85L442.53 203.66L442.90 195.98L443.12 197.43L443.32 206.00L443.86 203.40L443.99 196.94L444.32 196.42L444.39 204.09L444.71 204.36L444.76 197.18L445.11 196.84L445.18 203.37L445.63 197.64L445.88 204.68L446.25 196.32L446.31 204.26L446.69 196.52L446.91 202.71L447.04 197.01L447.52 203.00L447.83 197.57L448.02 203.25L448.22 204.79L448.50 196.13L448.98 195.12L449.03 203.25L449.23 202.86L449.40 194.96L449.55 203.25L450.02 196.25L450.36 196.00L450.48 203.42L450.74 203.38L450.87 195.49L451.33 203.96L451.42 196.01L451.63 196.53L451.66 204.84L452.18 203.90L452.44 196.29L452.84 195.98L452.93 203.21L453.06 196.60L453.19 202.91L453.74 196.28L453.76 204.40L454.31 198.00L454.46 205.82L454.61 203.16L454.77 197.05L455.36 197.49L455.47 203.33L455.88 203.91L456.02 197.81L456.06 197.94L456.43 203.55L456.85 197.27L456.96 203.98L457.07 198.04L457.15 203.96L457.92 195.54L458.01 205.96L458.27 204.59L458.38 196.21L458.55 196.55L458.60 204.44L459.04 196.41L459.52 204.63L459.61 204.24L459.85 196.51L460.33 196.89L460.52 203.46L460.55 204.28L460.59 196.32L461.09 206.09L461.51 197.79L461.95 203.81L461.97 198.35L462.04 204.10L462.52 197.28L462.61 196.81L463.02 203.12L463.07 203.60L463.24 195.68L463.70 195.94L463.76 202.76L464.18 198.36L464.25 203.43L464.58 203.08L464.80 196.12L465.39 196.45L465.41 203.40L465.73 196.95L466.00 203.93L466.22 203.39L466.35 197.10L466.83 203.73L466.90 196.98L467.14 204.89L467.33 196.46L467.75 202.97L467.84 196.56L468.08 195.61L468.49 205.12L468.63 202.87L468.96 196.37L469.13 196.63L469.35 205.20L469.57 203.30L469.85 197.17L470.35 197.16L470.47 204.29L470.93 195.99L470.97 201.80L471.12 202.80L471.21 197.15L472.00 196.65L472.02 203.61L472.11 203.22L472.20 196.32L472.55 196.83L472.61 203.35L473.20 195.77L473.40 203.42L473.66 198.60L473.93 203.50L474.10 204.91L474.43 195.16L474.63 204.50L475.02 193.85L475.30 197.86L475.46 191.36L475.54 196.03L475.98 185.87L476.20 188.91L476.51 180.42L476.55 182.91L477.01 174.41L477.08 178.76L477.49 168.29L477.54 174.15L477.89 165.13L478.15 167.81L478.46 160.68L478.61 165.29L478.83 159.36L479.05 158.10L479.07 164.74L479.71 167.80L479.92 160.05L480.21 162.55L480.28 169.87L480.60 166.13L480.93 174.87L481.11 170.45L481.50 179.60L481.66 174.49L481.81 184.58L482.13 179.87L482.47 189.44L482.66 183.40L482.88 193.87L483.10 188.27L483.45 196.17L483.56 189.84L483.95 198.58L484.32 192.26L484.52 200.20L484.55 200.62L484.98 195.48L485.09 203.42L485.13 195.69L485.73 201.94L485.84 196.04L486.06 196.38L486.52 201.48L486.86 196.22L486.87 202.84L487.09 197.04L487.13 203.80L487.72 203.39L487.90 196.76L488.09 203.11L488.13 196.24L488.59 204.40L488.68 197.95L489.14 202.72L489.45 195.59L489.56 196.03L489.89 203.37L490.33 196.71L490.48 204.09L490.92 194.56L490.94 203.82L491.38 203.40L491.40 196.78L491.59 203.36L491.70 197.26L492.14 203.51L492.45 195.87L492.58 204.24L492.93 197.16L493.04 197.28L493.44 202.40L493.72 204.20L493.78 197.27L494.29 203.82L494.38 197.51L494.66 205.79L494.70 195.69L495.05 203.29L495.51 195.58L495.71 196.61L495.91 203.25L496.04 204.14L496.26 196.36L496.54 204.04L496.70 197.34L497.24 206.69L497.38 197.95L497.79 204.31L497.81 197.35L498.10 197.44L498.32 205.04L498.64 196.53L498.71 203.73L499.15 204.09L499.28 195.81L499.65 195.54L499.89 204.57L500.22 202.84L500.24 197.32L500.66 203.23L500.81 193.52L501.18 196.56L501.25 205.16L501.64 203.22L501.88 197.06L502.26 203.76L502.48 197.25L502.72 202.98L502.89 196.79L503.03 197.58L503.53 203.07L503.77 203.40L503.83 196.91L504.12 195.98L504.30 204.31L504.78 196.56L504.89 202.50L505.30 195.67L505.37 204.62L505.74 196.41L505.87 204.32L506.38 196.13L506.50 203.92L506.73 203.50L507.03 196.12L507.23 197.38L507.29 203.86L507.73 196.39L507.97 204.10L508.19 205.77L508.26 198.38L508.63 204.33L508.67 196.59L509.09 203.88L509.29 195.81L510.01 203.36L510.03 197.03L510.25 194.40L510.43 202.69L510.82 203.39L510.84 196.54L511.17 197.50L511.26 204.44L511.56 203.37L511.74 195.28L512.11 195.73L512.24 202.74L512.79 196.55L512.81 203.89L513.18 204.30L513.36 197.00L513.60 203.58L513.77 196.32L514.23 203.01L514.34 196.93L514.70 204.30L514.81 197.23L515.44 203.48L515.48 197.15L515.74 196.75L515.88 203.60L516.34 203.66L516.36 197.25L516.54 196.49L516.58 203.41L517.10 202.90L517.19 196.49L517.54 205.04L517.61 196.64L518.05 203.98L518.09 196.12L518.86 197.73L518.90 204.84L519.40 197.95L519.51 204.34L519.69 194.98L519.95 203.09L520.04 203.36L520.12 196.46L520.59 203.83L520.87 196.15L521.04 196.71L521.16 204.24L521.63 196.88L521.97 205.36L522.05 205.53L522.07 197.83L522.97 202.92L522.99 197.08L523.23 196.09L523.43 204.36L523.56 198.49L523.67 202.30" fill="none" stroke="#1f77b4" stroke-width="1.5" stroke-linejoin="round" stroke-linecap="square"/>
<path d="M69.03 200.29L69.40 200.29L69.77 200.29L70.14 200.29L70.50 200.29L70.87 200.29L71.24 200.29L71.61 200.29L71.98 200.29L72.34 200.29L72.71 200.29L73.08 200.29L73.45 200.29L73.82 200.29L74.19 200.29L74.55 200.29L74.92 200.29L75.29 200.29L75.66 200.29L76.03 200.29L76.39 200.29L76.76 200.29L77.13 200.29L77.50 200.29L77.87 200.29L78.23 200.29L78.60 200.29L78.97 200.29L79.34 200.29L79.71 200.29L80.08 200.29L80.44 200.29L80.81 200.29L81.18 200.29L81.55 200.29L81.92 200.29L82.28 200.29L82.65 200.29L83.02 200.29L83.39 200.29L83.76 200.29L84.13 200.29L84.49 200.29L84.86 200.29L85.23 200.29L85.60 200.29L85.97 200.29L86.33 200.29L86.70 200.29L87.07 200.29L87.44 200.29L87.81 200.29L88.17 200.29L88.54 200.29L88.91 200.29L89.28 200.29L89.65 200.29L90.02 200.29L90.38 200.29L90.75 200.29L91.12 200.29L91.49 200.29L91.86 200.29L92.22 200.29L92.59 200.29L92.96 200.29L93.33 200.29L93.70 200.29L94.06 200.29L94.43 200.29L94.80 200.29L95.17 200.29L95.54 200.29L95.91 200.29L96.27 200.29L96.64 200.29L97.01 200.29L97.38 200.29L97.75 200.29L98.11 200.29L98.48 200.29L98.85 200.29L99.22 200.29L99.59 200.29L99.95 200.29L100.32 200.29L100.69 200.29L101.06 200.29L101.43 200.29L101.80 200.29L102.16 200.29L102.53 200.29L102.90 200.29L103.27 200.29L103.64 200.29L104.00 200.29L104.37 200.29L104.74 200.29L105.11 200.29L105.48 200.29L105.84 200.29L106.21 200.29L106.58 200.29L106.95 200.29L107.32 200.29L107.69 200.29L108.05 200.29L108.42 200.29L108.79 200.29L109.16 200.29L109.53 200.29L109.89 200.29L110.26 200.29L110.63 200.29L111.00 200.29L111.37 200.29L111.73 200.29L112.10 200.29L112.47 200.29L112.84 200.29L113.21 200.29L113.58 200.29L113.94 200.29L114.31 200.29L114.68 200.29L115.05 200.29L115.42 200.29L115.78 200.29L116.15 200.29L116.52 200.29L116.89 200.29L117.26 200.29L117.62 200.29L117.99 200.29L118.36 200.29L118.73 200.29L119.10 200.29L119.47 200.29L119.83 200.29L120.20 200.29L120.57 200.29L120.94 200.29L121.31 200.29L121.67 200.29L122.04 200.29L122.41 200.29L122.78 200.29L123.15 200.29L123.51 200.29L123.88 200.29L124.25 200.29L124.62 200.29L124.99 200.29L125.36 200.29L125.72 200.29L126.09 200.29L126.46 200.29L126.83 200.29L127.20 200.29L127.56 200.29L127.93 200.29L128.30 200.29L128.67 200.29L129.04 200.29L129.40 200.29L129.77 200.29L130.14 200.29L130.51 200.11L130.88 199.66L131.25 198.95L131.61 198.00L131.98 196.81L132.35 195.43L132.72 193.88L133.09 192.19L133.45 190.41L133.82 188.56L134.19 186.70L134.56 184.86L134.93 183.09L135.29 181.42L135.66 179.89L136.03 178.53L136.40 177.38L136.77 176.45L137.14 175.78L137.50 175.36L137.87 175.23L138.24 175.35L138.61 175.73L138.98 176.35L139.34 177.19L139.71 178.23L140.08 179.43L140.45 180.77L140.82 182.21L141.18 183.71L141.55 185.24L141.92 186.77L142.29 188.26L142.66 189.70L143.03 191.07L143.39 192.33L143.76 193.50L144.13 194.55L144.50 195.49L144.87 196.31L145.23 197.03L145.60 197.65L145.97 198.17L146.34 198.60L146.71 198.96L147.07 199.26L147.44 199.49L147.81 199.68L148.18 199.83L148.55 199.95L148.92 200.04L149.28 200.10L149.65 200.16L150.02 200.19L150.39 200.22L150.76 200.24L151.12 200.26L151.49 200.27L151.86 200.27L152.23 200.28L152.60 200.28L152.96 200.29L153.33 200.29L153.70 200.29L154.07 200.29L154.44 200.29L154.81 200.29L155.17 200.29L155.54 200.29L155.91 200.29L156.28 200.29L156.65 200.29L157.01 200.29L157.38 200.29L157.75 200.29L158.12 200.29L158.49 200.29L158.85 200.29L159.22 200.29L159.59 200.29L159.96 200.29L160.33 200.29L160.70 200.29L161.06 200.29L161.43 200.29L161.80 200.29L162.17 200.29L162.54 200.29L162.90 200.29L163.27 200.29L163.64 200.29L164.01 200.29L164.38 200.29L164.74 200.29L165.11 200.29L165.48 200.29L165.85 200.29L166.22 200.29L166.59 200.29L166.95 200.29L167.32 200.29L167.69 200.29L168.06 200.29L168.43 200.29L168.79 200.29L169.16 200.29L169.53 200.29L169.90 200.29L170.27 200.29L170.63 200.29L171.00 200.29L171.37 200.29L171.74 200.29L172.11 200.29L172.48 200.29L172.84 200.29L173.21 200.29L173.58 200.29L173.95 200.29L174.32 200.29L174.68 200.29L175.05 200.29L175.42 200.29L175.79 200.29L176.16 200.29L176.52 200.29L176.89 200.29L177.26 200.29L177.63 200.29L178.00 200.29L178.37 200.29L178.73 200.29L179.10 200.29L179.47 200.29L179.84 200.29L180.21 200.29L180.57 200.29L180.94 200.29L181.31 200.29L181.68 200.29L182.05 200.29L182.41 200.29L182.78 200.29L183.15 200.29L183.52 200.29L183.89 200.29L184.26 200.29L184.62 200.29L184.99 200.29L185.36 200.29L185.73 200.29L186.10 200.29L186.46 200.29L186.83 200.29L187.20 200.29L187.57 200.29L187.94 200.29L188.30 200.29L188.67 200.29L189.04 200.29L189.41 200.29L189.78 200.29L190.15 200.29L190.51 200.29L190.88 200.29L191.25 200.29L191.62 200.29L191.99 200.29L192.35 200.29L192.72 200.29L193.09 200.29L193.46 200.29L193.83 200.29L194.19 200.29L194.56 200.29L194.93 200.29L195.30 200.29L195.67 200.29L196.04 200.29L196.40 200.29L196.77 200.29L197.14 200.29L197.51 200.29L197.88 200.29L198.24 200.29L198.61 200.29L198.98 200.29L199.35 200.29L199.72 200.29L200.08 200.29L200.45 200.29L200.82 200.29L201.19 200.29L201.56 200.29L201.93 200.29L202.29 200.29L202.66 200.29L203.03 200.29L203.40 200.29L203.77 200.29L204.13 200.29L204.50 200.29L204.87 200.29L205.24 200.29L205.61 200.29L205.97 200.29L206.34 200.29L206.71 200.29L207.08 200.29L207.45 200.29L207.82 200.29L208.18 200.29L208.55 200.29L208.92 200.29L209.29 200.29L209.66 200.29L210.02 200.29L210.39 200.29L210.76 200.29L211.13 200.29L211.50 200.29L211.86 200.29L212.23 200.29L212.60 200.29L212.97 200.29L213.34 200.29L213.71 200.29L214.07 200.29L214.44 200.29L214.81 200.29L215.18 200.29L215.55 200.29L215.91 200.29L216.28 200.29L216.65 200.29L217.02 200.29L217.39 200.29L217.75 200.29L218.12 200.29L218.49 200.29L218.86 200.29L219.23 200.29L219.60 200.29L219.96 200.29L220.33 200.29L220.70 200.29L221.07 200.29L221.44 200.29L221.80 200.29L222.17 200.29L222.54 200.29L222.91 200.33L223.28 200.63L223.64 201.21L224.01 202.06L224.38 203.15L224.75 204.46L225.12 205.96L225.49 207.61L225.85 209.37L226.22 211.20L226.59 213.06L226.96 214.90L227.33 216.68L227.69 218.35L228.06 219.88L228.43 221.23L228.80 222.37L229.17 223.27L229.54 223.90L229.90 224.26L230.27 224.33L230.64 224.13L231.01 223.68L231.38 222.97L231.74 222.05L232.11 220.94L232.48 219.67L232.85 218.27L233.22 216.80L233.58 215.28L233.95 213.74L234.32 212.24L234.69 210.78L235.06 209.40L235.43 208.12L235.79 206.94L236.16 205.88L236.53 204.93L236.90 204.10L237.27 203.39L237.63 202.78L238.00 202.27L238.37 201.85L238.74 201.50L239.11 201.22L239.47 201.00L239.84 200.82L240.21 200.69L240.58 200.58L240.95 200.50L241.32 200.44L241.68 200.40L242.05 200.37L242.42 200.34L242.79 200.33L243.16 200.32L243.52 200.31L243.89 200.30L244.26 200.30L244.63 200.30L245.00 200.29L245.36 200.29L245.73 200.29L246.10 200.29L246.47 200.29L246.84 200.29L247.21 200.29L247.57 200.29L247.94 200.29L248.31 200.29L248.68 200.29L249.05 200.29L249.41 200.29L249.78 200.29L250.15 200.29L250.52 200.29L250.89 200.29L251.25 200.29L251.62 200.29L251.99 200.29L252.36 200.29L252.73 200.29L253.10 200.29L253.46 200.29L253.83 200.29L254.20 200.29L254.57 200.29L254.94 200.29L255.30 200.29L255.67 200.29L256.04 200.29L256.41 200.29L256.78 200.29L257.14 200.29L257.51 200.29L257.88 200.29L258.25 200.29L258.62 200.29L258.99 200.29L259.35 200.29L259.72 200.29L260.09 200.29L260.46 200.29L260.83 200.29L261.19 200.29L261.56 200.29L261.93 200.29L262.30 200.29L262.67 200.29L263.03 200.29L263.40 200.29L263.77 200.29L264.14 200.29L264.51 200.29L264.88 200.29L265.24 200.29L265.61 200.29L265.98 200.29L266.35 200.29L266.72 200.29L267.08 200.29L267.45 200.29L267.82 200.29L268.19 200.29L268.56 200.29L268.92 200.29L269.29 200.29L269.66 200.29L270.03 200.29L270.40 200.29L270.77 200.29L271.13 200.29L271.50 200.29L271.87 200.29L272.24 200.29L272.61 200.29L272.97 200.29L273.34 200.29L273.71 200.29L274.08 200.29L274.45 200.29L274.81 200.29L275.18 200.29L275.55 200.29L275.92 200.29L276.29 200.29L276.66 200.29L277.02 200.29L277.39 200.29L277.76 200.29L278.13 200.29L278.50 200.29L278.86 200.29L279.23 200.29L279.60 200.29L279.97 200.29L280.34 200.29L280.70 200.29L281.07 200.29L281.44 200.29L281.81 200.29L282.18 200.29L282.55 200.29L282.91 200.29L283.28 200.29L283.65 200.29L284.02 200.29L284.39 200.29L284.75 200.29L285.12 200.29L285.49 200.29L285.86 200.29L286.23 200.29L286.59 200.29L286.96 200.29L287.33 200.29L287.70 200.29L288.07 200.29L288.44 200.29L288.80 200.29L289.17 200.29L289.54 200.29L289.91 200.29L290.28 200.29L290.64 200.29L291.01 200.29L291.38 200.29L291.75 200.29L292.12 200.29L292.48 200.29L292.85 200.29L293.22 200.29L293.59 200.29L293.96 200.29L294.33 200.29L294.69 200.29L295.06 200.29L295.43 200.29L295.80 200.29L296.17 200.29L296.53 200.29L296.90 200.29L297.27 200.29L297.64 200.29L298.01 200.29L298.37 200.29L298.74 200.29L299.11 200.29L299.48 200.29L299.85 200.29L300.22 200.29L300.58 200.29L300.95 200.29L301.32 200.29L301.69 200.29L302.06 200.29L302.42 200.29L302.79 200.29L303.16 200.29L303.53 200.29L303.90 200.29L304.26 200.29L304.63 200.29L305.00 200.29L305.37 200.29L305.74 200.29L306.11 200.29L306.47 200.29L306.84 200.29L307.21 200.29L307.58 200.29L307.95 200.29L308.31 200.29L308.68 200.29L309.05 200.29L309.42 200.29L309.79 200.29L310.15 200.29L310.52 200.29L310.89 200.29L311.26 200.26L311.63 199.87L312.00 199.07L312.36 197.87L312.73 196.32L313.10 194.46L313.47 192.35L313.84 190.05L314.20 187.64L314.57 185.19L314.94 182.77L315.31 180.45L315.68 178.32L316.04 176.43L316.41 174.85L316.78 173.62L317.15 172.77L317.52 172.34L317.89 172.34L318.25 172.73L318.62 173.51L318.99 174.63L319.36 176.05L319.73 177.71L320.09 179.56L320.46 181.52L320.83 183.54L321.20 185.55L321.57 187.51L321.93 189.36L322.30 191.07L322.67 192.63L323.04 194.01L323.41 195.22L323.78 196.25L324.14 197.12L324.51 197.83L324.88 198.42L325.25 198.88L325.62 199.24L325.98 199.53L326.35 199.74L326.72 199.90L327.09 200.02L327.46 200.10L327.82 200.16L328.19 200.20L328.56 200.23L328.93 200.25L329.30 200.27L329.67 200.28L330.03 200.28L330.40 200.28L330.77 200.29L331.14 200.29L331.51 200.29L331.87 200.29L332.24 200.29L332.61 200.29L332.98 200.29L333.35 200.29L333.71 200.29L334.08 200.29L334.45 200.29L334.82 200.29L335.19 200.29L335.56 200.29L335.92 200.29L336.29 200.29L336.66 200.29L337.03 200.29L337.40 200.29L337.76 200.29L338.13 200.29L338.50 200.29L338.87 200.29L339.24 200.29L339.60 200.29L339.97 200.29L340.34 200.29L340.71 200.29L341.08 200.29L341.45 200.29L341.81 200.29L342.18 200.29L342.55 200.29L342.92 200.29L343.29 200.29L343.65 200.29L344.02 200.29L344.39 200.29L344.76 200.29L345.13 200.29L345.49 200.29L345.86 200.29L346.23 200.29L346.60 200.29L346.97 200.29L347.34 200.29L347.70 200.29L348.07 200.29L348.44 200.29L348.81 200.29L349.18 200.29L349.54 200.29L349.91 200.29L350.28 200.29L350.65 200.29L351.02 200.29L351.38 200.29L351.75 200.29L352.12 200.29L352.49 200.29L352.86 200.29L353.23 200.29L353.59 200.29L353.96 200.29L354.33 200.29L354.70 200.29L355.07 200.29L355.43 200.29L355.80 200.29L356.17 200.29L356.54 200.29L356.91 200.29L357.27 200.29L357.64 200.29L358.01 200.29L358.38 200.29L358.75 200.29L359.12 200.29L359.48 200.29L359.85 200.29L360.22 200.29L360.59 200.29L360.96 200.29L361.32 200.29L361.69 200.29L362.06 200.29L362.43 200.29L362.80 200.29L363.16 200.29L363.53 200.29L363.90 200.29L364.27 200.29L364.64 200.29L365.01 200.29L365.37 200.29L365.74 200.29L366.11 200.29L366.48 200.29L366.85 200.29L367.21 200.29L367.58 200.29L367.95 200.29L368.32 200.29L368.69 200.29L369.06 200.29L369.42 200.29L369.79 200.29L370.16 200.29L370.53 200.29L370.90 200.29L371.26 200.29L371.63 200.29L372.00 200.29L372.37 200.29L372.74 200.29L373.10 200.29L373.47 200.29L373.84 200.29L374.21 200.29L374.58 200.29L374.95 200.29L375.31 200.29L375.68 200.29L376.05 200.29L376.42 200.29L376.79 200.29L377.15 200.29L377.52 200.29L377.89 200.29L378.26 200.29L378.63 200.29L378.99 200.29L379.36 200.29L379.73 200.29L380.10 200.29L380.47 200.29L380.84 200.29L381.20 200.29L381.57 200.29L381.94 200.29L382.31 200.29L382.68 200.29L383.04 200.29L383.41 200.29L383.78 200.29L384.15 200.29L384.52 200.29L384.88 200.29L385.25 200.29L385.62 200.29L385.99 200.29L386.36 200.29L386.73 200.29L387.09 200.29L387.46 200.29L387.83 200.29L388.20 200.29L388.57 200.29L388.93 200.29L389.30 200.29L389.67 200.29L390.04 200.29L390.41 200.29L390.77 200.29L391.14 200.29L391.51 200.29L391.88 200.29L392.25 200.29L392.62 200.29L392.98 200.29L393.35 200.29L393.72 200.29L394.09 200.29L394.46 200.29L394.82 200.29L395.19 200.29L395.56 200.35L395.93 200.75L396.30 201.50L396.66 202.60L397.03 204.02L397.40 205.70L397.77 207.60L398.14 209.67L398.51 211.84L398.87 214.06L399.24 216.27L399.61 218.39L399.98 220.38L400.35 222.16L400.71 223.69L401.08 224.94L401.45 225.85L401.82 226.41L402.19 226.60L402.55 226.42L402.92 225.91L403.29 225.08L403.66 223.95L404.03 222.59L404.40 221.02L404.76 219.31L405.13 217.52L405.50 215.68L405.87 213.87L406.24 212.11L406.60 210.44L406.97 208.89L407.34 207.48L407.71 206.23L408.08 205.13L408.44 204.18L408.81 203.38L409.18 202.71L409.55 202.16L409.92 201.71L410.29 201.36L410.65 201.09L411.02 200.87L411.39 200.71L411.76 200.59L412.13 200.50L412.49 200.44L412.86 200.39L413.23 200.36L413.60 200.34L413.97 200.32L414.33 200.31L414.70 200.30L415.07 200.30L415.44 200.30L415.81 200.29L416.18 200.29L416.54 200.29L416.91 200.29L417.28 200.29L417.65 200.29L418.02 200.29L418.38 200.29L418.75 200.29L419.12 200.29L419.49 200.29L419.86 200.29L420.22 200.29L420.59 200.29L420.96 200.29L421.33 200.29L421.70 200.29L422.07 200.29L422.43 200.29L422.80 200.29L423.17 200.29L423.54 200.29L423.91 200.29L424.27 200.29L424.64 200.29L425.01 200.29L425.38 200.29L425.75 200.29L426.11 200.29L426.48 200.29L426.85 200.29L427.22 200.29L427.59 200.29L427.96 200.29L428.32 200.29L428.69 200.29L429.06 200.29L429.43 200.29L429.80 200.29L430.16 200.29L430.53 200.29L430.90 200.29L431.27 200.29L431.64 200.29L432.00 200.29L432.37 200.29L432.74 200.29L433.11 200.29L433.48 200.29L433.85 200.29L434.21 200.29L434.58 200.29L434.95 200.29L435.32 200.29L435.69 200.29L436.05 200.29L436.42 200.29L436.79 200.29L437.16 200.29L437.53 200.29L437.89 200.29L438.26 200.29L438.63 200.29L439.00 200.29L439.37 200.29L439.74 200.29L440.10 200.29L440.47 200.29L440.84 200.29L441.21 200.29L441.58 200.29L441.94 200.29L442.31 200.29L442.68 200.29L443.05 200.29L443.42 200.29L443.78 200.29L444.15 200.29L444.52 200.29L444.89 200.29L445.26 200.29L445.63 200.29L445.99 200.29L446.36 200.29L446.73 200.29L447.10 200.29L447.47 200.29L447.83 200.29L448.20 200.29L448.57 200.29L448.94 200.29L449.31 200.29L449.67 200.29L450.04 200.29L450.41 200.29L450.78 200.29L451.15 200.29L451.52 200.29L451.88 200.29L452.25 200.29L452.62 200.29L452.99 200.29L453.36 200.29L453.72 200.29L454.09 200.29L454.46 200.29L454.83 200.29L455.20 200.29L455.56 200.29L455.93 200.29L456.30 200.29L456.67 200.29L457.04 200.29L457.41 200.29L457.77 200.29L458.14 200.29L458.51 200.29L458.88 200.29L459.25 200.29L459.61 200.29L459.98 200.29L460.35 200.29L460.72 200.29L461.09 200.29L461.45 200.29L461.82 200.29L462.19 200.29L462.56 200.29L462.93 200.29L463.30 200.29L463.66 200.29L464.03 200.29L464.40 200.29L464.77 200.29L465.14 200.29L465.50 200.29L465.87 200.29L466.24 200.29L466.61 200.29L466.98 200.29L467.34 200.29L467.71 200.29L468.08 200.29L468.45 200.29L468.82 200.29L469.19 200.29L469.55 200.29L469.92 200.29L470.29 200.29L470.66 200.29L471.03 200.29L471.39 200.29L471.76 200.29L472.13 200.29L472.50 200.29L472.87 200.29L473.23 200.29L473.60 200.29L473.97 200.29L474.34 200.07L474.71 198.90L475.08 196.80L475.44 193.87L475.81 190.27L476.18 186.19L476.55 181.84L476.92 177.45L477.28 173.25L477.65 169.46L478.02 166.29L478.39 163.90L478.76 162.41L479.12 161.90L479.49 162.37L479.86 163.73L480.23 165.90L480.60 168.71L480.97 171.99L481.33 175.55L481.70 179.18L482.07 182.71L482.44 186.00L482.81 188.96L483.17 191.52L483.54 193.67L483.91 195.41L484.28 196.78L484.65 197.82L485.01 198.60L485.38 199.16L485.75 199.55L486.12 199.82L486.49 200.00L486.86 200.11L487.22 200.19L487.59 200.23L487.96 200.26L488.33 200.27L488.70 200.28L489.06 200.29L489.43 200.29L489.80 200.29L490.17 200.29L490.54 200.29L490.90 200.29L491.27 200.29L491.64 200.29L492.01 200.29L492.38 200.29L492.75 200.29L493.11 200.29L493.48 200.29L493.85 200.29L494.22 200.29L494.59 200.29L494.95 200.29L495.32 200.29L495.69 200.29L496.06 200.29L496.43 200.29L496.79 200.29L497.16 200.29L497.53 200.29L497.90 200.29L498.27 200.29L498.64 200.29L499.00 200.29L499.37 200.29L499.74 200.29L500.11 200.29L500.48 200.29L500.84 200.29L501.21 200.29L501.58 200.29L501.95 200.29L502.32 200.29L502.68 200.29L503.05 200.29L503.42 200.29L503.79 200.29L504.16 200.29L504.53 200.29L504.89 200.29L505.26 200.29L505.63 200.29L506.00 200.29L506.37 200.29L506.73 200.29L507.10 200.29L507.47 200.29L507.84 200.29L508.21 200.29L508.57 200.29L508.94 200.29L509.31 200.29L509.68 200.29L510.05 200.29L510.42 200.29L510.78 200.29L511.15 200.29L511.52 200.29L511.89 200.29L512.26 200.29L512.62 200.29L512.99 200.29L513.36 200.29L513.73 200.29L514.10 200.29L514.47 200.29L514.83 200.29L515.20 200.29L515.57 200.29L515.94 200.29L516.31 200.29L516.67 200.29L517.04 200.29L517.41 200.29L517.78 200.29L518.15 200.29L518.51 200.29L518.88 200.29L519.25 200.29L519.62 200.29L519.99 200.29L520.36 200.29L520.72 200.29L521.09 200.29L521.46 200.29L521.83 200.29L522.20 200.29L522.56 200.29L522.93 200.29L523.30 200.29L523.67 200.29" fill="none" stroke="#ff7f0e" stroke-width="2" stroke-linejoin="round" stroke-linecap="square"/></g>
<line x1="69.03" y1="234.5" x2="69.03" y2="238.0" stroke="#000" stroke-width="1.1"/>
<text class="t10" x="69.03" y="249.6" text-anchor="middle">0</text>
<line x1="161.06" y1="234.5" x2="161.06" y2="238.0" stroke="#000" stroke-width="1.1"/>
<text class="t10" x="161.06" y="249.6" text-anchor="middle">5</text>
<line x1="253.10" y1="234.5" x2="253.10" y2="238.0" stroke="#000" stroke-width="1.1"/>
<text class="t10" x="253.10" y="249.6" text-anchor="middle">10</text>
<line x1="345.13" y1="234.5" x2="345.13" y2="238.0" stroke="#000" stroke-width="1.1"/>
<text class="t10" x="345.13" y="249.6" text-anchor="middle">15</text>
<line x1="437.16" y1="234.5" x2="437.16" y2="238.0" stroke="#000" stroke-width="1.1"/>
<text class="t10" x="437.16" y="249.6" text-anchor="middle">20</text>
<line x1="529.19" y1="234.5" x2="529.19" y2="238.0" stroke="#000" stroke-width="1.1"/>
<text class="t10" x="529.19" y="249.6" text-anchor="middle">25</text>
<line x1="42.8" y1="228.52" x2="46.3" y2="228.52" stroke="#000" stroke-width="1.1"/>
<text class="t10" x="39.3" y="232.3" text-anchor="end">−50</text>
<line x1="42.8" y1="200.29" x2="46.3" y2="200.29" stroke="#000" stroke-width="1.1"/>
<text class="t10" x="39.3" y="204.1" text-anchor="end">0</text>
<line x1="42.8" y1="172.06" x2="46.3" y2="172.06" stroke="#000" stroke-width="1.1"/>
<text class="t10" x="39.3" y="175.9" text-anchor="end">50</text>
<rect x="46.3" y="154.0" width="500.1" height="80.5" fill="none" stroke="#000" stroke-width="1.1"/>
<text class="t12" x="296.3" y="148.0" text-anchor="middle">(b) Differentiated with 3 points central difference</text>
<text class="t10" x="296.3" y="262.6" text-anchor="middle">Time (s)</text>
<text class="t10" transform="translate(11.1,194.2) rotate(-90)" text-anchor="middle">Velocity (∘<tspan font-style="italic">/s</tspan>)</text>
<rect x="404.6" y="158.4" width="137.3" height="31.9" rx="2" ry="2" fill="#fff" stroke="#ccc" stroke-width="1"/>
<line x1="408.6" y1="166.7" x2="428.6" y2="166.7" stroke="#1f77b4" stroke-width="1.9" stroke-linecap="square"/>
<line x1="408.6" y1="180.8" x2="428.6" y2="180.8" stroke="#ff7f0e" stroke-width="1.9" stroke-linecap="square"/>
<text class="t10" x="436.6" y="170.7">Method noisy output</text>
<text class="t10" x="436.6" y="185.0">Exact velocity</text>
<g clip-path="url(#c2)"><path d="M69.05 336.95L69.07 340.61L69.92 340.59L70.03 337.56L70.21 337.43L70.27 340.56L70.69 340.92L70.91 337.18L71.13 336.90L71.41 340.63L71.54 340.20L71.55 336.20L72.11 337.25L72.29 341.44L72.68 339.90L72.93 337.23L73.27 341.08L73.49 336.17L73.54 339.98L73.78 336.78L74.30 336.23L74.48 340.38L74.66 340.49L74.72 336.74L75.29 337.63L75.46 340.77L75.71 340.35L75.79 337.64L76.06 340.73L76.27 337.38L76.76 340.36L76.91 337.95L77.31 337.30L77.48 341.30L77.98 336.77L78.00 341.12L78.07 340.50L78.38 336.84L78.75 337.22L78.95 340.66L79.06 337.21L79.16 341.53L79.74 340.79L80.00 337.41L80.31 337.73L80.37 341.49L80.65 340.24L80.92 337.41L81.14 340.84L81.24 336.21L81.62 340.49L81.79 337.24L82.16 340.98L82.32 337.08L82.54 337.08L82.87 340.48L83.19 340.20L83.52 337.54L83.57 340.75L83.98 337.59L84.07 340.13L84.22 337.04L84.66 340.44L84.68 337.14L85.06 337.37L85.41 340.66L85.82 340.31L85.97 336.50L86.48 335.89L86.50 340.12L86.61 340.43L86.92 337.11L87.11 337.38L87.51 340.48L87.95 337.31L87.99 340.67L88.28 340.75L88.30 337.58L88.78 337.25L89.00 341.64L89.41 336.91L89.50 341.38L89.65 337.67L89.74 340.46L90.31 337.08L90.38 340.47L90.75 337.52L90.97 340.49L91.10 337.54L91.29 340.74L91.97 340.00L92.00 336.71L92.28 336.58L92.32 340.35L92.70 337.49L92.96 340.67L93.14 341.22L93.48 336.49L93.62 336.72L93.79 341.05L94.47 340.19L94.51 337.22L94.95 337.00L95.00 340.63L95.11 340.70L95.41 336.35L95.54 340.49L95.76 336.52L96.38 336.91L96.51 340.73L96.66 336.92L97.03 340.37L97.12 336.47L97.40 340.67L97.58 336.41L97.64 340.44L98.10 340.76L98.11 337.15L98.57 336.73L98.83 340.63L99.42 340.27L99.51 336.30L99.79 340.85L100.03 337.44L100.29 337.20L100.30 340.96L100.93 336.99L101.00 340.27L101.26 337.47L101.45 340.66L101.65 337.31L101.72 340.73L102.26 336.28L102.48 341.46L102.57 337.41L102.68 340.56L103.21 340.46L103.27 337.27L103.54 341.34L103.84 337.09L104.37 340.52L104.46 336.83L104.56 336.41L104.85 340.76L105.13 340.29L105.40 337.38L105.57 340.83L106.01 337.69L106.30 336.48L106.45 340.41L106.54 336.60L106.67 339.99L107.13 341.58L107.50 337.13L107.80 336.99L107.94 340.18L108.15 336.65L108.27 340.58L108.57 336.59L108.73 340.52L109.05 340.42L109.07 337.61L109.69 336.60L109.77 340.34L110.15 340.68L110.48 337.35L110.65 336.95L110.92 340.36L111.26 340.42L111.50 336.24L111.62 337.04L111.73 341.12L112.05 337.51L112.53 341.12L112.62 340.31L112.71 336.94L113.26 336.75L113.39 340.48L113.61 340.39L113.65 336.18L114.29 337.55L114.44 340.88L114.59 336.17L114.79 340.70L115.21 340.65L115.31 336.86L115.78 337.07L115.82 340.56L116.15 340.83L116.39 337.25L116.67 337.28L116.78 341.59L117.04 336.82L117.29 339.99L117.66 340.64L117.97 336.78L118.10 336.78L118.49 341.12L118.75 337.10L118.93 340.43L119.04 340.49L119.23 336.76L119.85 341.31L119.96 336.25L120.09 336.98L120.18 341.81L120.59 337.27L120.61 340.73L121.45 340.39L121.47 337.83L121.64 337.26L121.95 340.09L122.35 340.17L122.52 337.09L122.74 340.20L122.93 336.76L123.22 336.75L123.51 340.64L123.75 340.76L123.85 337.70L124.10 336.44L124.38 340.26L124.55 340.56L124.84 336.79L125.43 340.63L125.48 336.61L125.59 340.73L125.85 337.75L126.09 337.76L126.29 340.34L126.66 341.13L126.94 337.42L127.07 340.27L127.16 337.22L127.66 336.80L127.77 341.18L128.10 337.31L128.24 341.58L128.76 341.01L128.83 337.05L129.05 340.48L129.33 336.57L129.68 337.21L129.88 341.51L130.36 337.16L130.47 340.22L130.55 340.26L130.91 336.73L131.08 338.70L131.39 335.30L131.63 337.96L131.96 333.64L132.11 335.75L132.31 332.28L132.74 333.46L133.01 329.20L133.20 331.87L133.53 327.22L133.58 328.99L134.02 323.35L134.28 325.50L134.50 322.08L134.60 323.33L135.02 318.43L135.09 320.11L135.39 316.91L135.55 318.74L135.99 313.41L136.10 317.69L136.40 312.31L136.58 314.92L136.95 311.43L137.19 310.56L137.21 314.07L137.91 314.68L137.95 310.77L138.24 309.82L138.33 314.01L138.64 311.23L138.81 315.29L139.18 316.57L139.42 312.00L139.66 313.83L140.01 317.98L140.06 314.67L140.50 319.36L140.63 317.58L140.87 320.95L141.20 319.31L141.44 323.95L141.57 320.85L141.88 326.92L142.05 321.61L142.44 328.81L142.66 325.95L142.80 329.99L143.06 327.86L143.39 331.85L143.69 328.40L143.76 333.20L144.20 330.83L144.37 335.21L144.68 332.62L144.79 335.84L145.25 332.65L145.51 337.11L145.64 333.63L145.82 337.91L146.39 335.57L146.52 339.48L146.80 335.62L146.84 339.35L147.28 339.95L147.37 336.52L147.66 335.60L147.98 340.50L148.22 337.51L148.23 340.77L148.69 337.95L148.99 341.27L149.21 337.14L149.39 339.77L149.54 336.81L149.71 340.85L150.06 337.68L150.19 340.45L150.55 340.27L150.85 336.48L151.05 337.58L151.18 340.69L151.90 336.71L151.95 340.58L152.21 341.28L152.43 336.46L152.71 340.82L152.82 336.39L153.09 340.07L153.48 337.40L153.81 340.17L153.96 336.60L154.31 337.15L154.47 339.93L154.84 340.92L154.99 336.35L155.25 337.21L155.36 340.52L155.73 340.57L155.85 337.02L156.26 340.45L156.28 336.74L156.89 340.75L156.98 336.80L157.11 337.20L157.51 340.82L157.62 336.16L158.03 340.84L158.14 340.32L158.27 337.18L158.56 336.56L158.80 340.43L159.08 337.01L159.09 340.83L159.61 336.70L159.90 340.06L160.38 337.19L160.46 340.28L160.64 337.60L160.66 340.21L161.17 340.04L161.21 337.82L161.82 340.99L161.97 337.87L162.22 340.20L162.32 336.86L162.89 336.58L163.00 340.48L163.33 340.88L163.51 336.78L163.79 337.66L163.88 340.49L164.10 340.76L164.30 337.37L164.76 336.63L164.82 340.70L165.39 336.49L165.46 340.80L165.55 340.55L165.59 337.27L166.03 341.48L166.25 337.75L166.57 340.91L166.73 336.36L167.19 340.89L167.49 336.92L167.58 336.97L167.89 341.66L168.26 340.31L168.41 336.69L168.76 336.14L168.87 340.58L169.11 336.49L169.38 340.04L169.70 337.42L169.86 341.26L170.23 337.06L170.38 340.48L170.58 336.64L170.91 340.78L171.37 337.32L171.41 340.49L171.54 340.20L171.92 337.38L172.18 336.96L172.53 341.26L172.88 340.02L173.01 337.50L173.06 340.61L173.52 337.68L173.69 340.69L173.84 337.61L174.32 337.65L174.44 340.01L174.54 336.84L174.65 341.45L175.11 336.96L175.25 340.70L175.62 337.04L175.70 341.44L176.18 340.95L176.23 337.48L176.54 336.91L176.58 340.71L177.15 340.76L177.17 336.89L178.00 337.21L178.02 341.86L178.24 337.16L178.42 341.14L178.79 336.13L178.86 340.41L179.12 340.33L179.38 337.80L179.62 335.95L179.97 341.40L180.24 341.29L180.35 337.13L180.61 337.79L180.92 341.05L181.05 336.87L181.48 340.00L181.70 337.57L181.90 341.44L182.23 337.49L182.30 340.79L182.78 339.65L182.99 336.90L183.39 336.99L183.45 340.37L183.74 336.90L183.80 340.96L184.09 340.95L184.20 337.38L184.84 336.80L184.94 341.52L185.36 340.43L185.43 336.83L185.54 337.30L185.75 340.95L186.19 340.32L186.43 336.47L186.57 337.40L186.67 341.01L187.38 340.97L187.44 335.89L187.72 336.78L188.01 341.27L188.07 336.87L188.18 340.62L188.69 336.47L188.71 340.95L189.15 337.53L189.41 340.66L189.59 337.60L189.96 340.51L190.20 341.48L190.27 336.92L190.79 340.82L190.84 337.31L191.14 336.20L191.23 342.33L191.86 341.76L191.93 337.37L192.43 337.28L192.50 340.86L192.74 336.94L192.94 340.34L193.24 340.67L193.29 336.73L193.66 337.37L193.94 340.97L194.27 341.26L194.40 337.56L194.82 336.52L194.95 341.09L195.15 336.44L195.39 340.64L195.85 337.69L196.02 340.34L196.05 337.01L196.46 340.08L196.72 337.29L196.81 341.29L197.43 336.38L197.53 340.99L197.69 341.42L197.91 337.10L198.43 337.49L198.45 339.76L198.61 341.28L199.02 337.11L199.35 337.73L199.44 341.14L199.64 341.96L199.72 337.15L200.36 340.90L200.42 336.91L200.64 337.98L200.78 340.96L201.12 336.99L201.41 341.07L201.80 340.29L201.93 337.49L202.33 336.60L202.50 340.56L202.81 336.43L202.86 340.29L203.20 337.75L203.34 340.59L203.60 337.54L203.90 340.31L204.21 340.18L204.39 336.31L204.94 337.47L204.96 341.14L205.09 336.70L205.20 340.86L205.61 336.34L205.68 340.78L206.20 340.34L206.34 337.54L206.69 336.50L206.97 340.23L207.10 336.44L207.52 340.08L207.76 340.87L207.89 337.02L208.17 336.76L208.46 340.35L208.83 336.71L209.03 341.24L209.23 337.59L209.34 340.67L209.64 340.98L209.99 337.60L210.28 340.95L210.30 336.63L210.74 336.69L210.94 340.36L211.26 340.92L211.35 336.82L211.70 340.77L211.79 337.41L212.12 340.18L212.16 336.95L212.56 337.69L212.64 340.23L213.17 337.38L213.19 340.35L213.61 341.43L213.69 337.43L214.11 341.44L214.41 337.32L214.68 340.72L214.90 337.00L215.21 341.06L215.25 337.50L215.68 340.74L215.90 337.44L216.30 340.53L216.47 337.52L216.54 336.49L216.83 340.50L217.06 340.49L217.48 335.74L217.59 340.91L217.64 336.70L218.05 337.65L218.44 340.32L218.66 336.90L218.86 341.27L219.26 341.24L219.43 337.26L219.67 340.69L219.85 336.92L220.31 340.51L220.50 336.45L220.85 337.04L220.87 340.42L221.16 341.00L221.25 336.88L221.55 340.55L221.71 337.42L222.25 337.27L222.28 340.76L222.85 336.87L223.02 340.61L223.13 337.09L223.35 341.52L223.61 341.69L223.77 338.77L224.05 339.30L224.47 344.21L224.68 341.58L224.99 346.82L225.06 342.86L225.47 348.14L225.54 345.71L225.87 350.66L226.09 348.95L226.48 352.59L226.61 351.02L226.98 355.88L227.16 353.82L227.38 358.43L227.55 356.96L227.90 361.72L228.04 359.43L228.50 362.96L228.69 360.53L228.82 363.76L229.04 360.94L229.28 364.76L229.65 362.35L229.85 365.88L230.11 361.66L230.29 366.33L230.68 366.50L230.86 361.69L231.34 361.11L231.39 365.36L231.58 363.90L231.87 360.68L232.17 363.04L232.33 357.88L232.59 359.91L232.65 356.52L233.09 357.70L233.53 353.77L233.64 355.96L233.93 351.72L234.12 353.04L234.50 350.29L234.67 351.97L234.91 347.41L235.08 349.81L235.44 345.79L235.77 347.65L236.01 343.72L236.36 346.17L236.47 342.13L236.57 344.88L237.03 341.38L237.32 344.04L237.36 340.75L237.73 342.58L238.00 338.38L238.11 337.98L238.46 342.09L238.55 341.11L238.68 338.41L239.25 337.96L239.49 342.01L239.62 341.52L239.82 337.82L240.08 341.41L240.49 337.55L240.78 341.13L240.89 337.66L241.44 339.96L241.50 337.37L241.68 341.06L241.79 336.91L242.24 341.04L242.53 337.24L242.68 336.34L242.84 340.57L243.39 340.86L243.41 336.54L243.82 337.61L243.91 340.89L244.33 336.44L244.39 340.74L244.67 340.40L244.92 336.91L245.24 336.74L245.27 341.37L245.70 340.69L245.81 337.30L246.36 337.49L246.43 341.17L246.62 340.60L246.74 337.53L247.35 337.82L247.48 340.68L247.72 340.35L247.94 337.29L248.31 336.85L248.53 340.58L248.60 337.07L248.92 341.14L249.29 340.92L249.30 337.37L249.84 340.47L249.91 337.02L250.28 340.69L250.33 337.61L250.72 336.61L250.83 340.17L251.09 340.10L251.49 337.35L251.55 340.30L251.70 337.09L252.06 340.96L252.51 337.03L252.60 341.14L252.89 337.21L253.30 337.21L253.46 340.88L253.54 336.07L253.76 340.21L254.03 336.49L254.37 340.56L254.77 341.58L254.95 337.83L255.32 337.39L255.36 341.14L255.60 341.11L255.91 337.26L256.08 340.84L256.32 336.86L256.56 337.58L256.74 341.31L257.29 337.27L257.38 341.29L257.66 337.40L258.03 340.07L258.19 340.94L258.51 337.59L258.71 337.73L258.84 340.62L259.06 338.20L259.13 340.69L259.92 339.71L260.02 337.21L260.24 339.99L260.42 337.14L260.66 340.97L260.84 338.15L261.41 337.53L261.47 340.82L261.80 341.92L261.97 336.94L262.04 340.88L262.32 337.26L262.59 337.41L262.94 339.62L263.05 336.71L263.07 340.18L263.62 336.72L263.77 341.78L264.12 339.97L264.43 337.20L264.60 337.17L264.84 340.50L265.32 340.65L265.50 337.18L265.92 336.47L265.94 341.06L266.16 340.70L266.27 336.78L266.59 340.27L266.77 336.51L267.07 340.41L267.38 336.51L267.82 340.69L267.84 337.41L268.35 336.54L268.46 341.13L268.65 340.37L268.87 337.27L269.15 340.87L269.48 337.33L269.66 341.06L269.86 336.57L270.21 340.46L270.31 337.33L270.58 337.04L270.75 340.75L271.21 340.44L271.39 337.18L271.70 341.00L272.00 337.09L272.05 340.73L272.42 336.48L272.66 336.37L272.86 340.71L273.12 341.07L273.32 336.56L273.62 340.19L273.75 336.65L274.35 336.53L274.52 340.30L274.69 341.16L274.70 337.15L275.35 337.78L275.37 340.85L275.73 340.57L275.97 336.80L276.10 340.92L276.49 336.20L276.56 341.28L276.93 337.09L277.06 336.97L277.21 340.96L277.81 337.38L277.93 340.71L278.48 336.76L278.50 340.52L278.59 340.80L278.79 337.27L279.20 336.62L279.31 340.87L279.80 336.90L279.91 340.20L280.17 336.71L280.21 340.27L280.80 337.75L280.91 339.92L281.04 336.87L281.31 341.38L281.85 340.88L281.94 337.25L282.31 340.78L282.38 337.13L282.67 336.53L282.97 340.48L283.23 339.84L283.32 335.90L283.56 339.98L283.87 336.58L284.15 337.70L284.42 340.31L284.55 340.12L284.90 337.31L285.09 336.27L285.42 340.86L285.88 340.17L286.02 336.95L286.19 341.48L286.47 337.51L286.59 337.55L286.91 340.57L287.22 340.89L287.29 337.30L287.63 336.91L287.98 341.16L288.16 341.08L288.21 337.30L288.75 340.94L288.77 337.01L289.13 336.52L289.23 341.07L289.54 340.43L289.89 337.72L290.06 337.30L290.52 340.71L290.53 336.33L290.92 341.84L291.33 336.92L291.40 340.86L291.58 337.19L291.75 340.79L292.06 336.47L292.50 341.38L292.80 340.44L292.93 336.98L293.06 336.34L293.15 341.15L293.96 340.63L293.98 336.86L294.29 340.77L294.36 336.79L294.71 340.06L294.95 336.86L295.17 336.76L295.50 341.75L295.58 342.04L295.74 337.05L296.15 340.67L296.46 337.54L296.53 340.60L296.98 337.47L297.07 336.99L297.16 339.75L297.73 340.13L297.86 337.51L298.12 340.64L298.36 337.35L298.67 341.77L298.71 337.46L299.30 337.18L299.37 340.19L299.66 339.94L299.77 337.27L300.09 340.50L300.34 337.78L300.57 340.86L300.60 337.84L301.08 337.48L301.52 340.86L301.60 336.90L301.78 340.22L302.07 336.96L302.22 340.73L302.70 337.35L302.85 341.08L303.07 337.27L303.16 340.35L303.68 336.59L303.95 341.01L304.12 335.95L304.23 340.88L304.54 341.72L304.72 337.20L305.06 340.29L305.52 337.18L305.57 341.40L305.66 337.17L306.25 337.82L306.27 341.02L306.69 336.92L306.80 340.94L307.25 340.61L307.34 337.24L307.69 340.60L307.74 337.50L308.19 337.18L308.52 340.91L308.77 337.12L308.83 340.92L309.47 337.22L309.53 341.36L309.62 341.16L309.66 336.14L310.04 336.86L310.47 339.91L310.67 340.78L310.96 337.47L311.09 340.87L311.31 337.51L311.83 339.88L311.85 335.99L312.18 338.95L312.49 334.62L312.55 337.84L312.81 332.83L313.06 333.18L313.39 328.26L313.67 330.95L314.02 324.81L314.19 327.83L314.50 321.70L314.65 324.16L314.90 319.58L315.05 319.87L315.53 313.67L315.81 312.78L315.90 317.18L316.06 313.43L316.27 310.89L316.67 312.38L317.02 308.49L317.08 310.72L317.26 308.01L317.63 310.65L317.89 307.57L318.14 310.82L318.49 307.31L318.60 308.82L318.66 313.59L319.17 310.52L319.23 314.22L319.62 311.96L319.78 318.21L320.11 314.05L320.33 319.46L320.54 317.68L320.92 322.80L321.05 321.23L321.49 325.35L321.62 324.61L321.95 328.31L322.08 326.98L322.47 331.50L322.54 328.24L322.71 332.92L323.08 330.49L323.48 334.70L323.85 332.55L323.98 336.06L324.25 337.66L324.36 333.31L324.60 335.88L324.66 338.40L325.38 335.62L325.49 338.73L325.73 336.72L325.87 340.45L326.11 339.29L326.43 336.41L326.65 336.48L326.67 340.48L327.03 339.85L327.09 336.99L327.97 340.17L328.03 336.93L328.40 341.91L328.41 337.17L328.54 337.62L328.82 340.52L329.24 339.94L329.39 336.62L329.98 340.61L330.02 336.52L330.29 340.84L330.44 337.31L330.57 336.48L330.94 340.60L331.21 337.63L331.45 340.38L331.62 337.56L331.71 339.78L332.21 336.62L332.37 340.88L332.63 336.61L332.85 340.75L333.25 337.17L333.29 340.28L333.75 336.79L333.86 340.45L334.34 342.11L334.38 337.55L334.60 337.02L334.82 340.95L335.10 340.56L335.21 337.94L335.74 337.08L335.87 340.45L336.38 336.84L336.46 340.80L336.59 337.14L336.70 340.99L337.36 341.29L337.47 337.31L337.58 336.69L337.78 340.50L338.37 336.83L338.39 340.85L338.74 336.67L338.96 340.81L339.40 336.18L339.49 340.61L339.68 336.54L339.75 339.99L340.32 337.52L340.38 340.65L340.54 337.31L340.62 341.33L341.24 340.77L341.35 337.27L341.59 336.87L341.65 340.75L342.09 341.73L342.13 337.86L342.68 337.48L342.99 340.75L343.23 336.95L343.47 340.21L343.71 337.04L343.95 341.05L344.15 336.29L344.17 340.62L344.89 341.03L344.92 337.47L345.49 337.40L345.51 340.86L345.59 340.29L345.86 336.41L346.18 340.80L346.27 337.17L346.54 340.84L346.80 336.74L347.48 336.77L347.50 340.51L347.80 340.69L347.87 337.10L348.09 336.93L348.35 339.93L348.57 340.46L349.01 337.76L349.12 340.26L349.38 335.77L349.77 342.37L349.86 337.29L350.13 341.49L350.48 336.27L350.81 341.06L350.91 336.20L351.20 337.20L351.26 340.06L351.68 340.89L351.85 337.03L352.12 340.86L352.43 337.54L352.62 336.14L352.82 340.58L353.19 337.49L353.21 340.56L353.89 338.05L354.00 340.32L354.20 336.77L354.26 340.34L354.55 340.12L354.97 336.60L355.12 336.79L355.51 340.26L355.60 337.10L355.95 340.55L356.06 337.51L356.15 340.28L356.78 337.44L357.02 340.44L357.33 340.31L357.40 337.67L357.53 336.82L357.57 340.10L358.36 336.50L358.53 340.49L358.73 340.02L359.02 336.51L359.32 337.07L359.41 339.83L359.76 337.47L359.82 340.81L360.15 336.94L360.20 341.24L360.72 341.01L360.88 336.13L361.18 341.04L361.51 337.41L361.55 340.72L361.86 336.79L362.10 339.62L362.24 337.35L362.70 337.29L362.85 340.71L363.29 336.81L363.42 340.94L363.53 337.82L363.94 340.74L364.10 341.82L364.25 336.79L364.66 337.01L364.69 340.29L365.10 336.98L365.37 340.36L365.91 340.70L365.98 336.77L366.15 337.36L366.26 341.49L366.77 337.77L366.81 340.78L367.10 337.30L367.14 340.61L367.93 336.72L367.95 340.43L368.28 340.04L368.32 336.60L368.82 340.15L368.91 337.09L369.31 339.93L369.37 336.29L369.59 335.81L369.70 340.42L370.31 337.21L370.42 341.16L370.64 340.67L370.88 337.21L371.12 342.19L371.21 336.72L371.67 339.86L371.71 337.21L372.29 336.72L372.42 340.87L372.70 340.79L372.75 336.93L373.09 340.96L373.21 337.44L373.55 337.60L373.58 341.06L374.21 336.72L374.32 340.18L374.72 340.00L374.80 337.09L375.18 337.23L375.37 340.77L375.87 336.87L375.99 340.60L376.09 336.86L376.14 340.69L376.77 337.28L376.99 340.48L377.04 340.35L377.49 336.95L377.67 336.41L377.71 341.99L378.20 341.25L378.35 336.39L378.57 341.98L378.81 337.21L379.07 337.35L379.47 340.00L379.62 340.33L379.95 337.11L380.10 336.86L380.19 340.20L380.56 336.20L380.69 339.96L381.42 340.74L381.44 337.27L381.76 337.84L381.85 340.71L382.25 337.12L382.45 341.60L382.58 340.79L382.71 336.65L383.28 337.08L383.52 340.61L383.78 340.83L384.02 336.85L384.09 336.82L384.35 340.57L384.77 340.26L385.03 337.29L385.47 336.60L385.49 340.97L385.69 340.70L385.95 336.75L386.50 336.56L386.52 341.43L386.76 336.62L386.93 340.51L387.19 341.89L387.48 336.99L387.59 340.52L387.74 337.09L388.22 340.73L388.27 335.82L388.95 340.05L388.99 337.22L389.14 340.35L389.17 337.01L389.74 341.37L389.98 337.05L390.26 337.27L390.39 341.73L390.94 340.21L391.01 337.72L391.25 336.93L391.33 340.14L391.90 337.81L391.97 340.58L392.28 341.06L392.38 336.93L392.80 340.54L392.85 337.25L393.13 337.56L393.41 340.66L393.63 336.98L394.00 340.34L394.46 340.52L394.51 337.61L394.58 336.91L394.92 341.27L395.08 342.15L395.38 336.52L395.73 337.40L395.97 340.59L396.15 338.42L396.39 341.31L396.61 339.75L397.01 345.25L397.11 342.36L397.44 346.47L397.66 344.15L398.03 349.21L398.39 352.80L398.43 348.08L398.63 350.48L398.95 356.32L399.06 353.82L399.46 359.11L399.55 356.96L399.94 361.82L400.03 359.65L400.49 363.86L400.64 363.09L401.01 365.87L401.12 367.57L401.25 364.36L401.67 365.39L401.84 369.67L402.09 364.92L402.11 368.20L402.59 368.18L402.83 365.32L403.05 367.01L403.40 363.26L403.79 366.19L403.99 361.67L404.08 364.90L404.47 358.71L404.67 361.26L404.95 356.41L405.09 358.87L405.41 355.15L405.63 356.24L405.98 351.63L406.03 354.34L406.46 349.08L406.64 350.40L406.99 345.84L407.16 349.06L407.32 345.32L407.65 346.72L407.93 342.75L408.06 344.89L408.50 341.94L408.72 344.95L408.79 340.65L409.07 342.85L409.24 339.12L409.88 338.86L409.90 341.99L410.19 342.49L410.30 338.60L410.54 341.91L410.69 338.12L411.10 341.02L411.19 336.88L411.76 341.28L411.98 338.02L412.25 340.70L412.40 337.51L412.62 340.58L412.86 337.75L413.36 340.55L413.38 337.04L413.87 337.07L413.91 340.03L414.26 340.54L414.32 336.94L414.78 337.12L414.85 340.72L415.27 340.96L415.31 337.02L415.81 340.77L415.97 337.27L416.25 341.94L416.34 336.45L416.58 340.63L416.67 336.86L417.26 340.32L417.39 337.29L417.70 337.42L417.78 340.95L418.09 336.89L418.37 340.78L418.62 337.13L418.64 340.05L419.21 340.65L419.23 336.61L419.69 340.59L419.71 337.08L420.08 340.91L420.45 337.22L420.83 336.92L420.98 341.44L421.20 335.90L421.27 340.32L421.79 340.21L421.97 337.87L422.36 341.50L422.41 337.50L422.82 337.54L422.97 340.89L423.15 340.91L423.32 336.54L423.54 337.67L423.68 340.62L424.33 336.37L424.51 341.00L424.61 337.24L424.92 340.39L425.19 337.48L425.23 340.20L425.86 340.58L426.02 337.49L426.04 337.36L426.50 340.76L426.94 335.89L426.96 340.17L427.05 341.31L427.16 336.73L427.55 336.73L427.81 340.12L428.34 341.07L428.42 336.99L428.67 337.47L428.77 340.45L429.23 340.10L429.43 337.50L429.96 336.49L430.02 340.52L430.33 337.73L430.48 339.93L430.55 340.71L430.57 337.06L431.05 337.66L431.29 340.49L431.78 337.46L431.86 339.92L432.23 340.43L432.30 336.53L432.54 337.15L432.81 340.68L433.18 336.83L433.46 341.08L433.88 336.99L433.97 339.88L434.21 340.98L434.23 338.08L434.66 341.00L435.00 336.92L435.26 336.55L435.52 340.58L435.91 340.52L435.96 337.16L436.35 340.65L436.51 336.41L436.66 337.81L436.77 340.45L437.18 340.05L437.49 337.63L437.60 340.86L437.99 337.28L438.28 336.54L438.52 341.43L438.54 337.19L438.81 340.63L439.16 340.61L439.50 336.66L439.61 336.89L439.68 339.92L440.25 340.92L440.29 336.48L440.80 336.65L440.86 341.17L441.06 340.30L441.32 336.69L441.96 336.86L441.98 340.39L442.13 341.25L442.40 336.73L442.81 340.63L443.01 336.81L443.29 337.20L443.31 341.41L443.75 340.42L443.97 337.01L444.15 336.08L444.30 341.14L444.56 340.48L444.98 337.39L445.13 336.94L445.18 340.79L445.61 337.15L445.66 339.97L446.16 340.40L446.36 336.59L446.56 340.71L446.99 335.92L447.17 336.60L447.28 340.22L447.83 335.69L447.87 340.51L448.33 336.63L448.48 340.44L448.70 340.98L448.99 336.35L449.27 340.20L449.49 337.54L449.84 340.30L449.90 336.49L450.21 341.27L450.45 336.90L450.54 337.14L450.76 340.21L451.22 337.30L451.39 341.02L451.53 337.22L451.59 340.07L452.16 337.73L452.38 340.26L452.67 340.72L452.75 337.21L453.12 336.66L453.47 340.23L453.54 336.25L453.93 340.49L454.42 340.51L454.46 336.66L454.83 340.67L455.01 336.33L455.10 336.76L455.22 340.91L455.66 340.27L455.95 336.65L456.14 340.36L456.15 336.19L456.60 340.67L456.78 337.14L457.09 337.14L457.39 340.05L457.72 340.68L458.03 337.34L458.09 340.67L458.18 335.81L458.69 337.33L458.84 340.89L459.10 340.66L459.28 336.87L459.71 340.46L459.72 337.07L460.20 340.39L460.28 337.39L460.53 340.74L460.98 337.10L461.20 340.29L461.47 336.98L461.75 340.81L461.95 336.96L462.17 340.78L462.32 337.03L462.63 341.14L462.65 337.17L463.31 340.81L463.37 337.55L463.76 340.72L463.96 337.19L464.09 341.24L464.16 336.35L464.79 336.67L464.80 340.16L465.38 339.76L465.39 336.71L465.58 340.49L465.80 337.17L466.06 336.70L466.17 341.19L466.57 341.57L466.59 337.00L467.11 340.57L467.29 337.74L467.58 336.98L467.90 340.03L468.41 336.92L468.49 340.41L468.85 337.36L468.96 340.37L469.19 337.39L469.30 340.67L469.79 336.65L469.96 340.56L470.05 340.55L470.47 337.57L470.62 337.99L470.93 341.05L471.06 336.56L471.19 340.62L471.65 337.17L471.91 340.32L472.20 340.48L472.42 336.74L472.63 337.35L472.92 340.61L473.05 341.08L473.44 337.51L473.73 340.10L474.01 337.31L474.14 337.06L474.23 340.20L474.80 339.39L475.00 335.31L475.06 336.27L475.39 329.09L475.55 331.51L475.96 325.48L476.07 326.28L476.49 319.04L476.60 320.40L476.95 311.60L477.06 313.35L477.51 306.21L477.54 307.92L478.02 302.04L478.15 303.24L478.44 298.51L478.65 300.15L478.66 296.89L479.11 296.35L479.44 300.25L479.62 296.60L479.99 301.99L480.08 299.51L480.52 304.64L480.62 304.30L481.00 309.69L481.13 308.07L481.46 315.30L481.59 314.61L481.98 319.91L482.03 318.63L482.46 325.35L482.57 324.14L482.97 329.64L483.17 327.51L483.43 332.63L483.74 330.43L483.95 335.22L484.06 332.20L484.48 337.40L484.59 334.59L485.00 338.90L485.22 335.44L485.53 339.54L485.84 336.12L485.92 339.87L486.17 336.50L486.21 340.69L486.78 340.63L487.02 336.78L487.26 340.72L487.43 337.05L487.55 336.76L487.96 341.04L488.03 337.19L488.18 340.95L488.62 336.81L488.88 340.81L489.29 340.76L489.40 337.55L489.71 341.23L489.73 336.14L490.26 340.61L490.39 336.94L490.68 337.30L490.89 339.98L491.05 339.92L491.25 336.76L491.68 339.76L491.95 336.44L492.29 336.71L492.36 341.25L492.58 337.39L492.84 341.06L493.46 337.22L493.50 340.93L493.56 337.18L494.00 340.54L494.13 341.38L494.20 337.16L494.55 337.08L494.60 340.08L495.08 340.96L495.18 337.56L495.80 340.61L495.89 336.46L496.24 340.32L496.35 337.23L496.87 340.81L497.00 337.72L497.31 336.90L497.38 340.89L497.62 340.33L497.73 337.34L498.21 336.94L498.41 340.79L498.60 340.36L498.73 336.85L499.21 337.39L499.22 340.59L499.65 337.36L500.02 340.71L500.14 340.85L500.37 337.47L500.70 337.44L500.88 340.44L501.14 336.69L501.53 340.16L501.78 337.24L501.99 340.49L502.22 337.21L502.35 341.03L502.56 341.03L502.81 337.60L503.27 341.38L503.48 336.90L503.79 337.27L504.01 340.33L504.38 337.35L504.42 340.95L504.71 337.54L504.84 340.62L505.34 336.52L505.46 339.60L505.67 340.72L505.74 336.55L506.13 340.84L506.26 336.52L506.59 337.50L506.75 340.51L507.07 337.19L507.08 341.28L507.67 337.37L507.82 340.34L508.28 340.32L508.48 337.12L508.56 341.41L508.94 337.01L509.24 340.44L509.44 337.53L509.81 337.04L509.86 340.73L510.36 340.64L510.53 337.06L510.54 337.36L510.93 340.23L511.39 341.20L511.41 336.95L511.85 340.22L511.96 336.97L512.11 336.75L512.37 340.36L512.59 336.86L512.96 340.92L513.07 340.40L513.38 337.00L513.77 340.09L513.78 336.88L514.08 340.57L514.39 337.30L514.63 340.66L514.96 337.08L515.13 337.48L515.46 340.79L515.55 337.63L515.70 340.32L516.20 340.94L516.53 336.53L516.60 340.73L517.01 336.89L517.24 336.71L517.39 340.64L517.87 337.65L517.94 341.44L518.05 340.56L518.07 337.18L518.66 336.55L518.75 340.57L519.21 337.24L519.49 340.12L519.66 336.36L519.73 340.28L520.34 336.56L520.43 341.14L520.54 340.53L520.63 337.50L521.31 336.34L521.33 340.99L521.57 339.99L521.59 337.15L522.10 340.40L522.32 336.86L522.56 336.95L522.99 340.94L523.12 336.68L523.39 340.56L523.58 340.56L523.61 338.01" fill="none" stroke="#1f77b4" stroke-width="1.5" stroke-linejoin="round" stroke-linecap="square"/>
<path d="M69.03 338.87L69.40 338.87L69.77 338.87L70.14 338.87L70.50 338.87L70.87 338.87L71.24 338.87L71.61 338.87L71.98 338.87L72.34 338.87L72.71 338.87L73.08 338.87L73.45 338.87L73.82 338.87L74.19 338.87L74.55 338.87L74.92 338.87L75.29 338.87L75.66 338.87L76.03 338.87L76.39 338.87L76.76 338.87L77.13 338.87L77.50 338.87L77.87 338.87L78.23 338.87L78.60 338.87L78.97 338.87L79.34 338.87L79.71 338.87L80.08 338.87L80.44 338.87L80.81 338.87L81.18 338.87L81.55 338.87L81.92 338.87L82.28 338.87L82.65 338.87L83.02 338.87L83.39 338.87L83.76 338.87L84.13 338.87L84.49 338.87L84.86 338.87L85.23 338.87L85.60 338.87L85.97 338.87L86.33 338.87L86.70 338.87L87.07 338.87L87.44 338.87L87.81 338.87L88.17 338.87L88.54 338.87L88.91 338.87L89.28 338.87L89.65 338.87L90.02 338.87L90.38 338.87L90.75 338.87L91.12 338.87L91.49 338.87L91.86 338.87L92.22 338.87L92.59 338.87L92.96 338.87L93.33 338.87L93.70 338.87L94.06 338.87L94.43 338.87L94.80 338.87L95.17 338.87L95.54 338.87L95.91 338.87L96.27 338.87L96.64 338.87L97.01 338.87L97.38 338.87L97.75 338.87L98.11 338.87L98.48 338.87L98.85 338.87L99.22 338.87L99.59 338.87L99.95 338.87L100.32 338.87L100.69 338.87L101.06 338.87L101.43 338.87L101.80 338.87L102.16 338.87L102.53 338.87L102.90 338.87L103.27 338.87L103.64 338.87L104.00 338.87L104.37 338.87L104.74 338.87L105.11 338.87L105.48 338.87L105.84 338.87L106.21 338.87L106.58 338.87L106.95 338.87L107.32 338.87L107.69 338.87L108.05 338.87L108.42 338.87L108.79 338.87L109.16 338.87L109.53 338.87L109.89 338.87L110.26 338.87L110.63 338.87L111.00 338.87L111.37 338.87L111.73 338.87L112.10 338.87L112.47 338.87L112.84 338.87L113.21 338.87L113.58 338.87L113.94 338.87L114.31 338.87L114.68 338.87L115.05 338.87L115.42 338.87L115.78 338.87L116.15 338.87L116.52 338.87L116.89 338.87L117.26 338.87L117.62 338.87L117.99 338.87L118.36 338.87L118.73 338.87L119.10 338.87L119.47 338.87L119.83 338.87L120.20 338.87L120.57 338.87L120.94 338.87L121.31 338.87L121.67 338.87L122.04 338.87L122.41 338.87L122.78 338.87L123.15 338.87L123.51 338.87L123.88 338.87L124.25 338.87L124.62 338.87L124.99 338.87L125.36 338.87L125.72 338.87L126.09 338.87L126.46 338.87L126.83 338.87L127.20 338.87L127.56 338.87L127.93 338.87L128.30 338.87L128.67 338.87L129.04 338.87L129.40 338.87L129.77 338.87L130.14 338.87L130.51 338.68L130.88 338.21L131.25 337.44L131.61 336.42L131.98 335.15L132.35 333.67L132.72 332.01L133.09 330.21L133.45 328.30L133.82 326.33L134.19 324.33L134.56 322.37L134.93 320.47L135.29 318.68L135.66 317.04L136.03 315.59L136.40 314.36L136.77 313.37L137.14 312.64L137.50 312.20L137.87 312.05L138.24 312.19L138.61 312.60L138.98 313.26L139.34 314.16L139.71 315.27L140.08 316.55L140.45 317.99L140.82 319.52L141.18 321.13L141.55 322.77L141.92 324.41L142.29 326.01L142.66 327.55L143.03 329.00L143.39 330.36L143.76 331.61L144.13 332.73L144.50 333.74L144.87 334.62L145.23 335.39L145.60 336.05L145.97 336.60L146.34 337.07L146.71 337.45L147.07 337.77L147.44 338.02L147.81 338.22L148.18 338.38L148.55 338.51L148.92 338.60L149.28 338.68L149.65 338.73L150.02 338.77L150.39 338.80L150.76 338.82L151.12 338.84L151.49 338.85L151.86 338.86L152.23 338.86L152.60 338.87L152.96 338.87L153.33 338.87L153.70 338.87L154.07 338.87L154.44 338.87L154.81 338.87L155.17 338.87L155.54 338.87L155.91 338.87L156.28 338.87L156.65 338.87L157.01 338.87L157.38 338.87L157.75 338.87L158.12 338.87L158.49 338.87L158.85 338.87L159.22 338.87L159.59 338.87L159.96 338.87L160.33 338.87L160.70 338.87L161.06 338.87L161.43 338.87L161.80 338.87L162.17 338.87L162.54 338.87L162.90 338.87L163.27 338.87L163.64 338.87L164.01 338.87L164.38 338.87L164.74 338.87L165.11 338.87L165.48 338.87L165.85 338.87L166.22 338.87L166.59 338.87L166.95 338.87L167.32 338.87L167.69 338.87L168.06 338.87L168.43 338.87L168.79 338.87L169.16 338.87L169.53 338.87L169.90 338.87L170.27 338.87L170.63 338.87L171.00 338.87L171.37 338.87L171.74 338.87L172.11 338.87L172.48 338.87L172.84 338.87L173.21 338.87L173.58 338.87L173.95 338.87L174.32 338.87L174.68 338.87L175.05 338.87L175.42 338.87L175.79 338.87L176.16 338.87L176.52 338.87L176.89 338.87L177.26 338.87L177.63 338.87L178.00 338.87L178.37 338.87L178.73 338.87L179.10 338.87L179.47 338.87L179.84 338.87L180.21 338.87L180.57 338.87L180.94 338.87L181.31 338.87L181.68 338.87L182.05 338.87L182.41 338.87L182.78 338.87L183.15 338.87L183.52 338.87L183.89 338.87L184.26 338.87L184.62 338.87L184.99 338.87L185.36 338.87L185.73 338.87L186.10 338.87L186.46 338.87L186.83 338.87L187.20 338.87L187.57 338.87L187.94 338.87L188.30 338.87L188.67 338.87L189.04 338.87L189.41 338.87L189.78 338.87L190.15 338.87L190.51 338.87L190.88 338.87L191.25 338.87L191.62 338.87L191.99 338.87L192.35 338.87L192.72 338.87L193.09 338.87L193.46 338.87L193.83 338.87L194.19 338.87L194.56 338.87L194.93 338.87L195.30 338.87L195.67 338.87L196.04 338.87L196.40 338.87L196.77 338.87L197.14 338.87L197.51 338.87L197.88 338.87L198.24 338.87L198.61 338.87L198.98 338.87L199.35 338.87L199.72 338.87L200.08 338.87L200.45 338.87L200.82 338.87L201.19 338.87L201.56 338.87L201.93 338.87L202.29 338.87L202.66 338.87L203.03 338.87L203.40 338.87L203.77 338.87L204.13 338.87L204.50 338.87L204.87 338.87L205.24 338.87L205.61 338.87L205.97 338.87L206.34 338.87L206.71 338.87L207.08 338.87L207.45 338.87L207.82 338.87L208.18 338.87L208.55 338.87L208.92 338.87L209.29 338.87L209.66 338.87L210.02 338.87L210.39 338.87L210.76 338.87L211.13 338.87L211.50 338.87L211.86 338.87L212.23 338.87L212.60 338.87L212.97 338.87L213.34 338.87L213.71 338.87L214.07 338.87L214.44 338.87L214.81 338.87L215.18 338.87L215.55 338.87L215.91 338.87L216.28 338.87L216.65 338.87L217.02 338.87L217.39 338.87L217.75 338.87L218.12 338.87L218.49 338.87L218.86 338.87L219.23 338.87L219.60 338.87L219.96 338.87L220.33 338.87L220.70 338.87L221.07 338.87L221.44 338.87L221.80 338.87L222.17 338.87L222.54 338.87L222.91 338.92L223.28 339.24L223.64 339.86L224.01 340.77L224.38 341.94L224.75 343.34L225.12 344.94L225.49 346.70L225.85 348.59L226.22 350.55L226.59 352.54L226.96 354.51L227.33 356.41L227.69 358.20L228.06 359.84L228.43 361.29L228.80 362.50L229.17 363.46L229.54 364.14L229.90 364.52L230.27 364.60L230.64 364.39L231.01 363.90L231.38 363.15L231.74 362.16L232.11 360.97L232.48 359.61L232.85 358.12L233.22 356.54L233.58 354.91L233.95 353.27L234.32 351.66L234.69 350.10L235.06 348.62L235.43 347.25L235.79 345.99L236.16 344.85L236.53 343.84L236.90 342.96L237.27 342.19L237.63 341.54L238.00 340.99L238.37 340.54L238.74 340.17L239.11 339.87L239.47 339.63L239.84 339.45L240.21 339.30L240.58 339.19L240.95 339.10L241.32 339.04L241.68 338.99L242.05 338.96L242.42 338.93L242.79 338.91L243.16 338.90L243.52 338.89L243.89 338.89L244.26 338.88L244.63 338.88L245.00 338.88L245.36 338.88L245.73 338.88L246.10 338.88L246.47 338.88L246.84 338.88L247.21 338.88L247.57 338.87L247.94 338.87L248.31 338.87L248.68 338.87L249.05 338.87L249.41 338.87L249.78 338.87L250.15 338.87L250.52 338.87L250.89 338.87L251.25 338.87L251.62 338.87L251.99 338.87L252.36 338.87L252.73 338.87L253.10 338.87L253.46 338.87L253.83 338.87L254.20 338.87L254.57 338.87L254.94 338.87L255.30 338.87L255.67 338.87L256.04 338.87L256.41 338.87L256.78 338.87L257.14 338.87L257.51 338.87L257.88 338.87L258.25 338.87L258.62 338.87L258.99 338.87L259.35 338.87L259.72 338.87L260.09 338.87L260.46 338.87L260.83 338.87L261.19 338.87L261.56 338.87L261.93 338.87L262.30 338.87L262.67 338.87L263.03 338.87L263.40 338.87L263.77 338.87L264.14 338.87L264.51 338.87L264.88 338.87L265.24 338.87L265.61 338.87L265.98 338.87L266.35 338.87L266.72 338.87L267.08 338.87L267.45 338.87L267.82 338.87L268.19 338.87L268.56 338.87L268.92 338.87L269.29 338.87L269.66 338.87L270.03 338.87L270.40 338.87L270.77 338.87L271.13 338.87L271.50 338.87L271.87 338.87L272.24 338.87L272.61 338.87L272.97 338.87L273.34 338.87L273.71 338.87L274.08 338.87L274.45 338.87L274.81 338.87L275.18 338.87L275.55 338.87L275.92 338.87L276.29 338.87L276.66 338.87L277.02 338.87L277.39 338.87L277.76 338.87L278.13 338.87L278.50 338.87L278.86 338.87L279.23 338.87L279.60 338.87L279.97 338.87L280.34 338.87L280.70 338.87L281.07 338.87L281.44 338.87L281.81 338.87L282.18 338.87L282.55 338.87L282.91 338.87L283.28 338.87L283.65 338.87L284.02 338.87L284.39 338.87L284.75 338.87L285.12 338.87L285.49 338.87L285.86 338.87L286.23 338.87L286.59 338.87L286.96 338.87L287.33 338.87L287.70 338.87L288.07 338.87L288.44 338.87L288.80 338.87L289.17 338.87L289.54 338.87L289.91 338.87L290.28 338.87L290.64 338.87L291.01 338.87L291.38 338.87L291.75 338.87L292.12 338.87L292.48 338.87L292.85 338.87L293.22 338.87L293.59 338.87L293.96 338.87L294.33 338.87L294.69 338.87L295.06 338.87L295.43 338.87L295.80 338.87L296.17 338.87L296.53 338.87L296.90 338.87L297.27 338.87L297.64 338.87L298.01 338.87L298.37 338.87L298.74 338.87L299.11 338.87L299.48 338.87L299.85 338.87L300.22 338.87L300.58 338.87L300.95 338.87L301.32 338.87L301.69 338.87L302.06 338.87L302.42 338.87L302.79 338.87L303.16 338.87L303.53 338.87L303.90 338.87L304.26 338.87L304.63 338.87L305.00 338.87L305.37 338.87L305.74 338.87L306.11 338.87L306.47 338.87L306.84 338.87L307.21 338.87L307.58 338.87L307.95 338.87L308.31 338.87L308.68 338.87L309.05 338.87L309.42 338.87L309.79 338.87L310.15 338.87L310.52 338.87L310.89 338.87L311.26 338.84L311.63 338.43L312.00 337.57L312.36 336.29L312.73 334.63L313.10 332.64L313.47 330.38L313.84 327.92L314.20 325.34L314.57 322.71L314.94 320.12L315.31 317.65L315.68 315.37L316.04 313.35L316.41 311.65L316.78 310.33L317.15 309.43L317.52 308.97L317.89 308.97L318.25 309.39L318.62 310.22L318.99 311.41L319.36 312.93L319.73 314.71L320.09 316.69L320.46 318.79L320.83 320.95L321.20 323.10L321.57 325.19L321.93 327.18L322.30 329.01L322.67 330.68L323.04 332.16L323.41 333.45L323.78 334.55L324.14 335.48L324.51 336.25L324.88 336.87L325.25 337.37L325.62 337.76L325.98 338.06L326.35 338.28L326.72 338.46L327.09 338.58L327.46 338.67L327.82 338.74L328.19 338.78L328.56 338.81L328.93 338.83L329.30 338.85L329.67 338.86L330.03 338.86L330.40 338.87L330.77 338.87L331.14 338.87L331.51 338.87L331.87 338.87L332.24 338.87L332.61 338.87L332.98 338.87L333.35 338.87L333.71 338.87L334.08 338.87L334.45 338.87L334.82 338.87L335.19 338.87L335.56 338.87L335.92 338.87L336.29 338.87L336.66 338.87L337.03 338.87L337.40 338.87L337.76 338.87L338.13 338.87L338.50 338.87L338.87 338.87L339.24 338.87L339.60 338.87L339.97 338.87L340.34 338.87L340.71 338.87L341.08 338.87L341.45 338.87L341.81 338.87L342.18 338.87L342.55 338.87L342.92 338.87L343.29 338.87L343.65 338.87L344.02 338.87L344.39 338.87L344.76 338.87L345.13 338.87L345.49 338.87L345.86 338.87L346.23 338.87L346.60 338.87L346.97 338.87L347.34 338.87L347.70 338.87L348.07 338.87L348.44 338.87L348.81 338.87L349.18 338.87L349.54 338.87L349.91 338.87L350.28 338.87L350.65 338.87L351.02 338.87L351.38 338.87L351.75 338.87L352.12 338.87L352.49 338.87L352.86 338.87L353.23 338.87L353.59 338.87L353.96 338.87L354.33 338.87L354.70 338.87L355.07 338.87L355.43 338.87L355.80 338.87L356.17 338.87L356.54 338.87L356.91 338.87L357.27 338.87L357.64 338.87L358.01 338.87L358.38 338.87L358.75 338.87L359.12 338.87L359.48 338.87L359.85 338.87L360.22 338.87L360.59 338.87L360.96 338.87L361.32 338.87L361.69 338.87L362.06 338.87L362.43 338.87L362.80 338.87L363.16 338.87L363.53 338.87L363.90 338.87L364.27 338.87L364.64 338.87L365.01 338.87L365.37 338.87L365.74 338.87L366.11 338.87L366.48 338.87L366.85 338.87L367.21 338.87L367.58 338.87L367.95 338.87L368.32 338.87L368.69 338.87L369.06 338.87L369.42 338.87L369.79 338.87L370.16 338.87L370.53 338.87L370.90 338.87L371.26 338.87L371.63 338.87L372.00 338.87L372.37 338.87L372.74 338.87L373.10 338.87L373.47 338.87L373.84 338.87L374.21 338.87L374.58 338.87L374.95 338.87L375.31 338.87L375.68 338.87L376.05 338.87L376.42 338.87L376.79 338.87L377.15 338.87L377.52 338.87L377.89 338.87L378.26 338.87L378.63 338.87L378.99 338.87L379.36 338.87L379.73 338.87L380.10 338.87L380.47 338.87L380.84 338.87L381.20 338.87L381.57 338.87L381.94 338.87L382.31 338.87L382.68 338.87L383.04 338.87L383.41 338.87L383.78 338.87L384.15 338.87L384.52 338.87L384.88 338.87L385.25 338.87L385.62 338.87L385.99 338.87L386.36 338.87L386.73 338.87L387.09 338.87L387.46 338.87L387.83 338.87L388.20 338.87L388.57 338.87L388.93 338.87L389.30 338.87L389.67 338.87L390.04 338.87L390.41 338.87L390.77 338.87L391.14 338.87L391.51 338.87L391.88 338.87L392.25 338.87L392.62 338.87L392.98 338.87L393.35 338.87L393.72 338.87L394.09 338.87L394.46 338.87L394.82 338.87L395.19 338.87L395.56 338.94L395.93 339.36L396.30 340.17L396.66 341.35L397.03 342.86L397.40 344.66L397.77 346.69L398.14 348.91L398.51 351.24L398.87 353.61L399.24 355.97L399.61 358.25L399.98 360.37L400.35 362.28L400.71 363.92L401.08 365.25L401.45 366.22L401.82 366.82L402.19 367.02L402.55 366.84L402.92 366.29L403.29 365.40L403.66 364.20L404.03 362.73L404.40 361.06L404.76 359.23L405.13 357.31L405.50 355.35L405.87 353.40L406.24 351.52L406.60 349.73L406.97 348.08L407.34 346.57L407.71 345.23L408.08 344.05L408.44 343.04L408.81 342.18L409.18 341.46L409.55 340.87L409.92 340.40L410.29 340.02L410.65 339.73L411.02 339.50L411.39 339.33L411.76 339.20L412.13 339.10L412.49 339.03L412.86 338.98L413.23 338.95L413.60 338.92L413.97 338.91L414.33 338.90L414.70 338.89L415.07 338.88L415.44 338.88L415.81 338.88L416.18 338.88L416.54 338.88L416.91 338.88L417.28 338.88L417.65 338.88L418.02 338.87L418.38 338.87L418.75 338.87L419.12 338.87L419.49 338.87L419.86 338.87L420.22 338.87L420.59 338.87L420.96 338.87L421.33 338.87L421.70 338.87L422.07 338.87L422.43 338.87L422.80 338.87L423.17 338.87L423.54 338.87L423.91 338.87L424.27 338.87L424.64 338.87L425.01 338.87L425.38 338.87L425.75 338.87L426.11 338.87L426.48 338.87L426.85 338.87L427.22 338.87L427.59 338.87L427.96 338.87L428.32 338.87L428.69 338.87L429.06 338.87L429.43 338.87L429.80 338.87L430.16 338.87L430.53 338.87L430.90 338.87L431.27 338.87L431.64 338.87L432.00 338.87L432.37 338.87L432.74 338.87L433.11 338.87L433.48 338.87L433.85 338.87L434.21 338.87L434.58 338.87L434.95 338.87L435.32 338.87L435.69 338.87L436.05 338.87L436.42 338.87L436.79 338.87L437.16 338.87L437.53 338.87L437.89 338.87L438.26 338.87L438.63 338.87L439.00 338.87L439.37 338.87L439.74 338.87L440.10 338.87L440.47 338.87L440.84 338.87L441.21 338.87L441.58 338.87L441.94 338.87L442.31 338.87L442.68 338.87L443.05 338.87L443.42 338.87L443.78 338.87L444.15 338.87L444.52 338.87L444.89 338.87L445.26 338.87L445.63 338.87L445.99 338.87L446.36 338.87L446.73 338.87L447.10 338.87L447.47 338.87L447.83 338.87L448.20 338.87L448.57 338.87L448.94 338.87L449.31 338.87L449.67 338.87L450.04 338.87L450.41 338.87L450.78 338.87L451.15 338.87L451.52 338.87L451.88 338.87L452.25 338.87L452.62 338.87L452.99 338.87L453.36 338.87L453.72 338.87L454.09 338.87L454.46 338.87L454.83 338.87L455.20 338.87L455.56 338.87L455.93 338.87L456.30 338.87L456.67 338.87L457.04 338.87L457.41 338.87L457.77 338.87L458.14 338.87L458.51 338.87L458.88 338.87L459.25 338.87L459.61 338.87L459.98 338.87L460.35 338.87L460.72 338.87L461.09 338.87L461.45 338.87L461.82 338.87L462.19 338.87L462.56 338.87L462.93 338.87L463.30 338.87L463.66 338.87L464.03 338.87L464.40 338.87L464.77 338.87L465.14 338.87L465.50 338.87L465.87 338.87L466.24 338.87L466.61 338.87L466.98 338.87L467.34 338.87L467.71 338.87L468.08 338.87L468.45 338.87L468.82 338.87L469.19 338.87L469.55 338.87L469.92 338.87L470.29 338.87L470.66 338.87L471.03 338.87L471.39 338.87L471.76 338.87L472.13 338.87L472.50 338.87L472.87 338.87L473.23 338.87L473.60 338.87L473.97 338.87L474.34 338.64L474.71 337.39L475.08 335.14L475.44 332.01L475.81 328.15L476.18 323.78L476.55 319.13L476.92 314.43L477.28 309.94L477.65 305.89L478.02 302.49L478.39 299.93L478.76 298.34L479.12 297.80L479.49 298.30L479.86 299.76L480.23 302.07L480.60 305.08L480.97 308.60L481.33 312.40L481.70 316.28L482.07 320.06L482.44 323.59L482.81 326.75L483.17 329.49L483.54 331.79L483.91 333.65L484.28 335.12L484.65 336.24L485.01 337.07L485.38 337.67L485.75 338.09L486.12 338.37L486.49 338.56L486.86 338.69L487.22 338.76L487.59 338.81L487.96 338.84L488.33 338.85L488.70 338.86L489.06 338.87L489.43 338.87L489.80 338.87L490.17 338.87L490.54 338.87L490.90 338.87L491.27 338.87L491.64 338.87L492.01 338.87L492.38 338.87L492.75 338.87L493.11 338.87L493.48 338.87L493.85 338.87L494.22 338.87L494.59 338.87L494.95 338.87L495.32 338.87L495.69 338.87L496.06 338.87L496.43 338.87L496.79 338.87L497.16 338.87L497.53 338.87L497.90 338.87L498.27 338.87L498.64 338.87L499.00 338.87L499.37 338.87L499.74 338.87L500.11 338.87L500.48 338.87L500.84 338.87L501.21 338.87L501.58 338.87L501.95 338.87L502.32 338.87L502.68 338.87L503.05 338.87L503.42 338.87L503.79 338.87L504.16 338.87L504.53 338.87L504.89 338.87L505.26 338.87L505.63 338.87L506.00 338.87L506.37 338.87L506.73 338.87L507.10 338.87L507.47 338.87L507.84 338.87L508.21 338.87L508.57 338.87L508.94 338.87L509.31 338.87L509.68 338.87L510.05 338.87L510.42 338.87L510.78 338.87L511.15 338.87L511.52 338.87L511.89 338.87L512.26 338.87L512.62 338.87L512.99 338.87L513.36 338.87L513.73 338.87L514.10 338.87L514.47 338.87L514.83 338.87L515.20 338.87L515.57 338.87L515.94 338.87L516.31 338.87L516.67 338.87L517.04 338.87L517.41 338.87L517.78 338.87L518.15 338.87L518.51 338.87L518.88 338.87L519.25 338.87L519.62 338.87L519.99 338.87L520.36 338.87L520.72 338.87L521.09 338.87L521.46 338.87L521.83 338.87L522.20 338.87L522.56 338.87L522.93 338.87L523.30 338.87L523.67 338.87" fill="none" stroke="#ff7f0e" stroke-width="2" stroke-linejoin="round" stroke-linecap="square"/></g>
<line x1="69.03" y1="372.4" x2="69.03" y2="375.9" stroke="#000" stroke-width="1.1"/>
<text class="t10" x="69.03" y="387.5" text-anchor="middle">0</text>
<line x1="161.06" y1="372.4" x2="161.06" y2="375.9" stroke="#000" stroke-width="1.1"/>
<text class="t10" x="161.06" y="387.5" text-anchor="middle">5</text>
<line x1="253.10" y1="372.4" x2="253.10" y2="375.9" stroke="#000" stroke-width="1.1"/>
<text class="t10" x="253.10" y="387.5" text-anchor="middle">10</text>
<line x1="345.13" y1="372.4" x2="345.13" y2="375.9" stroke="#000" stroke-width="1.1"/>
<text class="t10" x="345.13" y="387.5" text-anchor="middle">15</text>
<line x1="437.16" y1="372.4" x2="437.16" y2="375.9" stroke="#000" stroke-width="1.1"/>
<text class="t10" x="437.16" y="387.5" text-anchor="middle">20</text>
<line x1="529.19" y1="372.4" x2="529.19" y2="375.9" stroke="#000" stroke-width="1.1"/>
<text class="t10" x="529.19" y="387.5" text-anchor="middle">25</text>
<line x1="42.8" y1="369.08" x2="46.3" y2="369.08" stroke="#000" stroke-width="1.1"/>
<text class="t10" x="39.3" y="372.9" text-anchor="end">−50</text>
<line x1="42.8" y1="338.87" x2="46.3" y2="338.87" stroke="#000" stroke-width="1.1"/>
<text class="t10" x="39.3" y="342.7" text-anchor="end">0</text>
<line x1="42.8" y1="308.67" x2="46.3" y2="308.67" stroke="#000" stroke-width="1.1"/>
<text class="t10" x="39.3" y="312.5" text-anchor="end">50</text>
<rect x="46.3" y="292.0" width="500.1" height="80.4" fill="none" stroke="#000" stroke-width="1.1"/>
<text class="t12" x="296.3" y="286.0" text-anchor="middle">(c) Differentiated with 5 points central difference</text>
<text class="t10" x="296.3" y="401.0" text-anchor="middle">Time (s)</text>
<text class="t10" transform="translate(11.1,332.2) rotate(-90)" text-anchor="middle">Velocity (∘<tspan font-style="italic">/s</tspan>)</text>
<rect x="404.6" y="296.4" width="137.3" height="31.9" rx="2" ry="2" fill="#fff" stroke="#ccc" stroke-width="1"/>
<line x1="408.6" y1="304.7" x2="428.6" y2="304.7" stroke="#1f77b4" stroke-width="1.9" stroke-linecap="square"/>
<line x1="408.6" y1="318.8" x2="428.6" y2="318.8" stroke="#ff7f0e" stroke-width="1.9" stroke-linecap="square"/>
<text class="t10" x="436.6" y="308.7">Method noisy output</text>
<text class="t10" x="436.6" y="323.0">Exact velocity</text>
</svg></body></html>
